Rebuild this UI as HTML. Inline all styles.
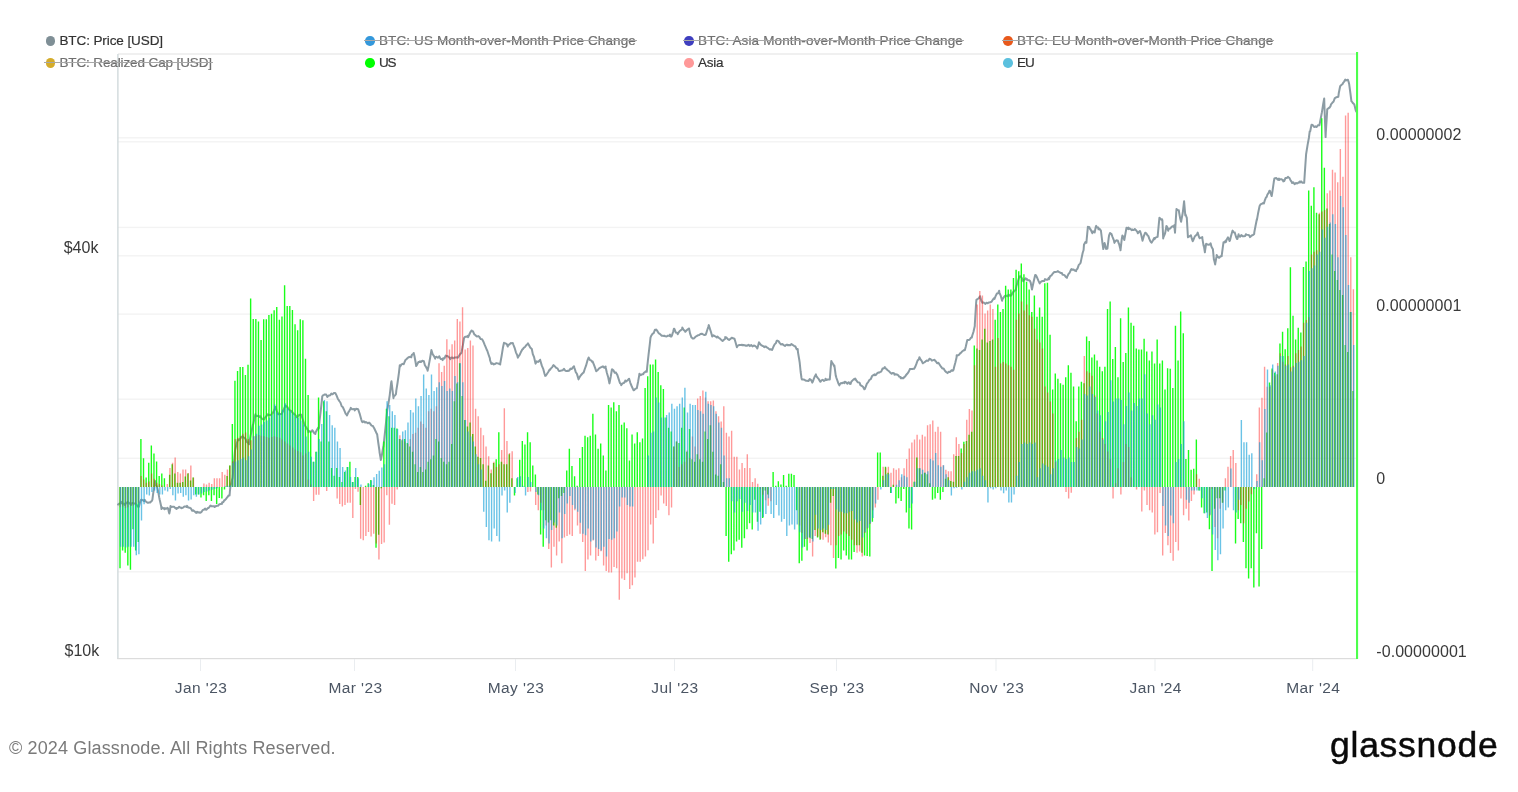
<!DOCTYPE html>
<html><head><meta charset="utf-8"><title>Glassnode chart</title>
<style>
html,body{margin:0;padding:0;background:#fff;}
body{width:1518px;height:792px;position:relative;overflow:hidden;font-family:"Liberation Sans",sans-serif;}
.lg{position:absolute;white-space:nowrap;font-size:13.5px;line-height:16px;color:#333;-webkit-text-stroke:0.2px currentColor;}
.lg .dot{position:absolute;left:-13.8px;top:3.2px;width:9.6px;height:9.6px;border-radius:50%;}
.lg.off{color:#707070;}
.lg.off .st{position:absolute;left:-15.2px;right:-1px;top:7.2px;height:1.3px;background:#a8a8a8;}
.ax{position:absolute;white-space:nowrap;font-size:16px;line-height:18px;color:#3a3a3a;}
.xl{position:absolute;white-space:nowrap;font-size:15.5px;line-height:18px;color:#4b5563;transform:translateX(-50%);letter-spacing:0.42px;}
.foot{position:absolute;left:9px;top:737px;font-size:18px;line-height:22px;color:#7a7a7a;white-space:nowrap;letter-spacing:0.14px;}
.logo{position:absolute;left:1330px;top:723.2px;font-size:35.5px;line-height:44px;color:#0a0a0a;white-space:nowrap;letter-spacing:0.75px;-webkit-text-stroke:0.5px #0a0a0a;}
</style></head><body>

<svg width="1518" height="792" viewBox="0 0 1518 792" style="position:absolute;left:0;top:0">
<rect x="118" y="53.3" width="1239" height="1.4" fill="#eaeaea"/>
<rect x="118" y="137.1" width="1239" height="1.4" fill="#f3f3f3"/>
<rect x="118" y="141.1" width="1239" height="1.4" fill="#f3f3f3"/>
<rect x="118" y="226.7" width="1239" height="1.4" fill="#f3f3f3"/>
<rect x="118" y="255.1" width="1239" height="1.4" fill="#f3f3f3"/>
<rect x="118" y="313.4" width="1239" height="1.4" fill="#f3f3f3"/>
<rect x="118" y="398.5" width="1239" height="1.4" fill="#f3f3f3"/>
<rect x="118" y="457.6" width="1239" height="1.4" fill="#f3f3f3"/>
<rect x="118" y="571.1" width="1239" height="1.4" fill="#f3f3f3"/>
<rect x="117.3" y="54" width="1.2" height="605" fill="#c9d3d6"/>
<rect x="117.3" y="658" width="1240" height="1.2" fill="#dcdcdc"/>
<rect x="200.0" y="659" width="1" height="12" fill="#eaedf0"/>
<rect x="354.0" y="659" width="1" height="12" fill="#eaedf0"/>
<rect x="515.0" y="659" width="1" height="12" fill="#eaedf0"/>
<rect x="674.0" y="659" width="1" height="12" fill="#eaedf0"/>
<rect x="836.0" y="659" width="1" height="12" fill="#eaedf0"/>
<rect x="995.5" y="659" width="1" height="12" fill="#eaedf0"/>
<rect x="1154.5" y="659" width="1" height="12" fill="#eaedf0"/>
<rect x="1312.2" y="659" width="1" height="12" fill="#eaedf0"/>
<path d="M118.1 504.6 L119.4 503.4 L120.7 503.4 L121.3 501.9 L122.0 503.2 L123.3 503.7 L124.6 503.8 L125.1 505.0 L125.9 503.2 L127.2 502.7 L127.4 501.9 L128.5 502.4 L129.8 503.6 L131.1 504.9 L131.2 503.5 L132.4 503.1 L133.7 503.2 L134.2 503.6 L135.0 503.6 L136.3 504.3 L137.6 506.5 L138.7 505.6 L138.9 506.7 L140.2 502.1 L141.0 499.7 L141.5 499.7 L142.8 500.1 L144.1 501.1 L144.8 499.8 L145.4 501.1 L146.7 502.2 L147.8 502.5 L148.0 502.9 L149.3 502.4 L150.1 502.6 L150.6 502.0 L151.9 500.8 L152.4 499.6 L153.2 493.3 L153.9 489.3 L154.5 485.0 L155.1 481.1 L155.8 484.2 L156.2 484.9 L157.1 486.9 L157.7 489.2 L158.4 492.9 L159.2 497.4 L159.7 499.8 L161.0 505.4 L161.5 509.0 L162.3 507.5 L163.6 508.4 L164.5 509.3 L164.9 508.1 L166.2 508.8 L167.5 507.9 L168.3 509.1 L168.8 511.7 L169.3 513.5 L170.1 509.7 L170.5 506.1 L171.4 506.9 L172.7 506.7 L173.6 506.7 L174.0 506.7 L175.3 508.1 L176.6 508.9 L176.6 508.0 L177.9 508.1 L179.2 506.7 L180.5 507.8 L181.2 507.6 L181.8 508.2 L183.1 507.6 L184.4 506.4 L185.7 506.4 L186.5 506.9 L187.0 505.9 L188.3 507.6 L189.6 507.8 L190.2 508.0 L190.9 508.4 L192.2 510.8 L193.3 510.3 L193.5 510.7 L194.8 511.5 L196.1 512.9 L197.1 511.7 L197.4 512.4 L198.7 512.3 L200.0 512.8 L200.8 512.5 L201.3 512.2 L202.6 510.2 L203.9 509.6 L205.2 508.6 L205.4 509.6 L206.5 509.7 L207.8 508.1 L208.4 508.1 L209.1 507.3 L210.4 505.6 L210.7 505.7 L211.7 506.3 L213.0 506.2 L214.3 506.2 L214.5 507.1 L215.6 506.3 L216.9 505.8 L218.2 505.7 L219.0 504.6 L219.5 504.2 L220.8 504.0 L222.1 503.8 L222.1 502.5 L223.4 502.0 L224.3 500.3 L224.7 500.2 L226.0 499.0 L227.3 497.2 L227.4 497.2 L228.6 495.4 L229.6 495.4 L229.9 491.3 L230.4 486.3 L231.2 483.3 L232.5 478.1 L232.6 478.1 L233.8 464.3 L235.1 449.9 L235.2 449.9 L236.4 444.7 L237.7 440.2 L237.7 439.5 L239.0 440.2 L240.3 438.7 L241.6 436.8 L242.7 436.2 L242.9 436.6 L244.2 437.9 L245.5 438.8 L246.5 441.2 L246.8 442.0 L248.1 442.8 L249.0 444.3 L249.4 441.6 L250.7 435.1 L252.0 429.1 L252.8 424.9 L253.3 424.0 L254.6 417.5 L255.4 414.3 L255.9 416.4 L257.2 416.0 L258.5 415.7 L259.8 417.0 L260.4 416.2 L261.1 417.6 L262.4 419.1 L263.7 419.5 L264.2 419.4 L265.0 417.6 L266.3 416.3 L267.6 414.4 L268.0 415.2 L268.9 414.7 L270.2 415.2 L271.5 414.3 L271.8 414.1 L272.8 413.0 L274.1 410.5 L275.4 407.4 L275.6 407.0 L276.7 410.5 L278.0 414.3 L278.1 413.4 L279.3 414.2 L280.6 414.1 L281.9 413.7 L281.9 413.5 L283.2 410.8 L284.5 407.5 L285.7 405.5 L285.8 406.2 L287.1 406.5 L288.4 408.8 L289.4 409.9 L289.7 410.2 L291.0 410.8 L292.3 412.2 L293.2 413.4 L293.6 413.6 L294.9 414.5 L296.2 416.2 L297.0 417.3 L297.5 416.9 L298.8 415.3 L300.1 414.8 L300.8 414.6 L301.4 414.8 L302.7 419.4 L304.0 423.4 L304.6 424.7 L305.3 426.0 L306.6 428.1 L307.9 430.1 L308.4 432.2 L309.2 431.1 L310.5 431.6 L311.8 431.5 L312.2 430.2 L313.1 431.2 L314.4 433.5 L315.3 434.0 L315.7 432.2 L317.0 429.8 L318.3 427.5 L318.5 428.7 L318.9 428.3 L319.6 420.5 L320.9 409.4 L322.2 397.2 L322.2 396.4 L323.5 394.9 L324.0 394.9 L324.8 394.4 L326.1 394.6 L327.4 396.9 L327.8 396.4 L328.7 395.5 L330.0 395.5 L331.3 393.6 L331.6 394.3 L332.6 394.2 L333.9 393.0 L335.2 393.1 L335.4 393.2 L336.5 395.4 L337.8 398.7 L339.1 400.6 L339.2 401.0 L340.4 402.5 L341.7 406.3 L343.0 407.2 L343.0 407.5 L344.3 410.4 L345.6 413.6 L346.7 414.9 L346.9 415.6 L348.2 412.6 L349.5 410.5 L350.5 408.8 L350.8 407.9 L352.1 409.2 L353.4 409.1 L354.3 409.0 L354.7 410.5 L356.0 408.8 L357.3 409.0 L358.1 409.2 L358.6 410.6 L359.9 414.4 L361.2 419.2 L361.9 421.5 L362.5 422.2 L363.8 421.2 L365.1 422.6 L365.7 422.1 L366.4 422.2 L367.7 423.2 L369.0 422.7 L369.5 422.8 L370.3 424.0 L371.6 425.6 L372.9 426.0 L373.3 426.7 L374.2 428.3 L375.5 431.0 L376.8 433.9 L377.1 433.9 L378.1 441.5 L379.4 450.5 L379.6 452.6 L380.7 458.9 L380.8 460.0 L382.0 454.3 L383.3 446.4 L383.4 446.8 L384.6 435.9 L385.9 423.6 L387.2 410.5 L387.2 410.2 L388.5 403.0 L389.7 395.3 L389.8 394.5 L391.1 383.0 L391.5 381.3 L392.4 389.3 L393.5 398.2 L393.7 396.3 L395.0 395.5 L396.0 393.9 L396.3 390.6 L397.6 382.5 L398.9 373.2 L399.8 365.2 L400.2 366.4 L401.5 364.4 L402.8 363.8 L403.6 364.2 L404.1 363.2 L405.4 360.1 L406.7 359.0 L407.4 358.2 L408.0 357.7 L409.3 357.0 L410.6 356.8 L411.2 357.4 L411.9 354.9 L413.2 354.0 L413.7 353.0 L414.5 356.3 L415.8 363.5 L416.2 366.0 L417.1 364.6 L418.4 362.0 L419.7 362.1 L420.0 361.3 L421.0 362.0 L422.3 360.7 L423.6 361.5 L423.8 361.1 L424.9 365.2 L426.2 367.2 L427.5 369.9 L427.6 370.7 L428.8 365.1 L430.1 358.0 L431.4 350.2 L431.4 350.0 L432.7 354.2 L434.0 356.1 L435.2 358.6 L435.3 357.3 L436.6 356.8 L437.9 357.7 L439.0 356.8 L439.2 356.3 L440.5 358.9 L441.8 359.1 L442.7 360.1 L443.1 358.3 L444.4 358.5 L445.7 355.6 L446.5 356.4 L447.0 355.9 L448.3 356.6 L449.6 357.9 L450.3 359.1 L450.9 357.8 L452.2 357.5 L453.5 358.3 L454.1 357.7 L454.8 357.4 L456.1 357.5 L457.4 357.3 L457.9 357.6 L458.7 356.5 L460.0 354.3 L461.3 353.0 L461.7 351.5 L462.6 346.8 L463.9 339.0 L464.2 337.7 L465.2 336.7 L466.5 336.7 L467.8 335.8 L468.0 337.2 L469.1 335.0 L470.4 332.1 L471.7 330.5 L471.8 331.3 L473.0 331.3 L474.3 334.4 L475.6 335.3 L475.6 335.5 L476.9 336.6 L478.2 336.1 L479.4 336.8 L479.5 337.3 L480.8 339.1 L482.1 339.2 L483.2 341.2 L483.4 341.6 L484.7 344.9 L486.0 347.9 L487.0 350.3 L487.3 350.8 L488.6 354.7 L489.9 358.4 L490.0 360.0 L491.2 363.5 L491.4 363.9 L492.5 363.3 L493.8 364.4 L495.1 364.0 L495.2 363.6 L496.4 363.1 L497.7 363.4 L499.0 363.8 L500.2 364.5 L500.3 363.2 L501.6 356.0 L502.9 347.8 L504.0 342.7 L504.2 343.0 L505.5 343.4 L506.8 344.1 L507.8 346.5 L508.1 345.0 L509.4 344.5 L510.7 343.1 L512.0 343.2 L512.8 343.0 L513.3 344.5 L514.6 347.8 L515.9 352.3 L517.2 355.2 L517.9 357.7 L518.5 356.3 L519.8 354.6 L521.1 351.7 L522.4 349.3 L523.0 349.0 L523.7 347.9 L525.0 347.0 L526.3 345.2 L527.6 344.0 L528.0 343.4 L528.9 345.0 L530.2 347.5 L531.5 348.7 L531.8 349.0 L532.8 354.1 L534.1 357.2 L535.4 363.1 L535.6 363.6 L536.7 361.4 L538.0 361.9 L539.3 360.9 L540.1 359.7 L540.6 361.5 L541.9 365.9 L543.2 368.8 L544.5 373.8 L545.2 375.9 L545.8 375.6 L547.1 373.7 L548.4 371.8 L549.5 369.8 L549.7 370.1 L551.0 368.4 L552.3 367.1 L553.3 365.3 L553.6 365.1 L554.9 366.4 L556.2 367.9 L557.5 368.4 L558.8 370.9 L559.6 371.0 L560.1 370.9 L561.4 370.5 L562.7 370.2 L563.4 369.6 L564.0 368.8 L565.3 370.7 L566.6 370.9 L567.9 370.7 L568.4 370.9 L569.2 370.6 L570.5 368.6 L571.8 369.0 L573.1 367.2 L574.0 366.2 L574.4 367.7 L575.7 371.9 L577.0 374.1 L578.3 378.4 L578.5 379.4 L579.6 377.1 L580.9 375.2 L582.2 373.8 L583.5 372.6 L583.6 372.6 L584.8 369.0 L586.1 365.4 L587.4 360.7 L588.6 357.5 L588.7 357.8 L590.0 360.1 L591.3 360.5 L592.4 362.1 L592.6 361.5 L593.9 364.6 L595.2 368.1 L596.2 371.2 L596.5 371.0 L597.8 370.0 L599.1 368.3 L600.4 367.7 L601.3 367.0 L601.7 367.0 L603.0 366.3 L604.3 367.8 L605.6 366.5 L605.8 368.0 L606.9 373.0 L608.2 377.2 L609.4 383.4 L609.5 383.2 L610.8 376.4 L611.9 369.5 L612.1 369.3 L613.4 370.3 L614.7 372.8 L616.0 372.5 L616.4 373.5 L617.3 374.9 L618.6 378.9 L619.9 383.0 L621.0 384.0 L621.2 385.2 L622.5 383.4 L623.8 383.0 L625.1 381.5 L625.3 380.4 L626.4 381.4 L627.7 380.1 L629.0 378.8 L629.1 378.7 L630.3 382.8 L631.6 386.0 L632.9 388.9 L633.6 390.3 L634.2 390.1 L635.5 388.6 L636.8 388.3 L637.2 386.3 L638.1 381.7 L639.2 375.3 L639.4 373.8 L640.7 375.1 L642.0 374.3 L643.3 374.3 L643.7 373.0 L644.6 372.4 L645.9 371.3 L646.8 371.8 L647.2 367.0 L648.5 355.2 L649.8 344.1 L650.5 337.6 L651.1 336.1 L652.4 333.9 L653.7 333.1 L655.0 329.7 L655.6 330.0 L656.3 329.6 L657.6 331.4 L658.9 333.6 L659.4 333.6 L660.2 334.2 L661.5 335.7 L662.8 335.8 L664.1 336.0 L664.4 335.7 L665.4 336.3 L666.7 336.4 L668.0 335.6 L669.3 335.9 L670.0 334.6 L670.6 336.5 L671.4 336.6 L671.9 335.6 L673.2 331.5 L673.9 328.7 L674.5 329.1 L675.8 332.6 L677.1 332.7 L677.7 334.2 L678.4 332.9 L679.7 331.0 L681.0 330.1 L682.2 328.9 L682.3 327.5 L683.6 329.9 L684.9 330.9 L685.3 331.8 L686.2 330.8 L687.5 329.5 L688.8 328.6 L689.1 328.6 L690.1 333.7 L691.4 337.4 L691.6 337.4 L692.7 338.5 L694.0 338.4 L695.3 337.0 L696.6 336.0 L696.6 336.1 L697.9 335.3 L699.2 335.1 L700.5 334.0 L701.7 333.7 L701.8 333.7 L703.1 334.4 L704.4 335.0 L705.7 334.7 L706.0 334.0 L707.0 330.7 L708.3 326.8 L708.8 325.1 L709.6 327.9 L710.9 331.7 L711.8 335.0 L712.2 336.5 L713.5 335.2 L714.8 336.2 L716.1 336.8 L716.8 337.5 L717.4 336.6 L718.7 337.7 L720.0 338.6 L721.3 339.9 L721.9 340.4 L722.6 340.9 L723.9 339.7 L725.2 338.7 L725.2 337.1 L726.5 337.5 L727.8 339.2 L729.1 340.0 L729.5 339.2 L730.4 339.2 L731.7 337.7 L733.0 338.2 L734.3 338.9 L734.5 338.7 L735.6 342.5 L736.9 347.3 L737.1 346.3 L738.2 345.5 L739.5 344.9 L740.8 345.0 L742.1 344.7 L742.1 345.2 L743.4 345.1 L744.7 345.3 L746.0 345.8 L747.2 345.5 L747.3 345.7 L748.6 344.7 L749.9 346.1 L751.2 345.0 L752.5 346.4 L753.5 345.9 L753.8 345.4 L755.1 345.9 L756.4 347.0 L757.3 348.4 L757.7 347.2 L759.0 342.3 L759.0 342.2 L760.3 344.2 L761.6 345.4 L762.9 346.1 L763.6 346.3 L764.2 347.2 L765.5 346.4 L766.8 347.4 L768.1 348.1 L769.4 349.4 L770.7 349.2 L772.0 350.0 L772.4 349.3 L773.3 347.0 L774.6 344.4 L775.9 343.1 L776.7 340.9 L777.2 340.6 L778.5 341.1 L779.8 343.1 L781.1 344.5 L781.3 344.2 L782.4 344.1 L783.7 345.1 L785.0 345.9 L786.3 344.8 L787.6 344.7 L787.6 345.3 L788.9 345.1 L790.2 345.3 L791.5 344.0 L792.6 344.9 L792.8 345.0 L794.1 345.8 L795.4 346.5 L796.7 349.3 L797.7 349.0 L798.0 352.3 L799.3 360.0 L799.7 362.7 L800.6 371.5 L801.5 378.0 L801.9 379.6 L803.2 379.6 L804.5 379.8 L805.3 380.4 L805.8 380.7 L807.1 380.8 L808.4 381.1 L809.7 379.1 L810.3 379.5 L811.0 379.8 L812.3 382.6 L812.9 381.5 L813.6 379.4 L814.9 376.2 L815.9 374.4 L816.2 375.9 L817.5 377.7 L818.8 379.2 L820.1 381.5 L820.4 381.8 L821.4 380.4 L822.7 379.8 L824.0 380.9 L825.3 380.2 L825.5 378.8 L826.6 380.0 L827.9 379.4 L829.2 379.4 L829.8 379.4 L830.5 370.4 L831.3 361.0 L831.8 362.2 L833.1 364.0 L834.3 366.7 L834.4 365.6 L835.7 375.4 L836.4 377.8 L837.0 379.5 L838.3 383.2 L839.4 385.4 L839.6 384.5 L840.9 383.1 L842.2 383.3 L843.5 382.4 L844.4 383.1 L844.8 381.7 L846.1 382.3 L847.4 383.7 L848.7 382.3 L850.0 383.3 L850.0 384.1 L850.6 383.9 L851.3 381.7 L852.6 380.4 L853.9 379.1 L855.2 379.6 L855.2 378.4 L856.5 380.7 L857.8 382.3 L859.1 382.4 L859.7 382.9 L860.4 385.1 L861.7 385.9 L863.0 386.8 L864.3 389.2 L864.8 389.0 L865.6 387.2 L866.9 383.6 L868.2 382.1 L868.8 381.1 L869.5 379.8 L870.8 379.2 L872.1 376.0 L873.4 375.1 L874.7 374.3 L874.8 375.2 L876.0 374.8 L877.3 373.2 L878.6 372.5 L879.4 372.6 L879.9 372.1 L881.2 371.6 L882.5 368.6 L883.8 368.4 L884.8 367.1 L885.1 367.6 L886.4 369.1 L887.7 370.3 L889.0 371.2 L890.0 372.4 L890.3 372.6 L891.6 373.8 L892.9 372.9 L894.2 373.5 L894.5 374.7 L895.5 374.2 L896.8 374.5 L898.1 375.1 L899.4 376.8 L900.6 376.9 L900.7 378.2 L902.0 378.0 L903.3 378.2 L904.6 376.8 L905.2 376.4 L905.9 375.2 L907.2 373.8 L908.5 372.1 L909.7 369.6 L909.8 369.1 L911.1 369.1 L912.4 369.0 L913.7 368.7 L914.2 368.7 L915.0 367.3 L916.3 364.2 L917.6 360.5 L918.9 359.2 L919.4 357.2 L920.2 359.0 L921.5 360.6 L922.8 363.3 L923.3 363.0 L924.1 362.5 L925.4 361.6 L926.7 360.4 L928.0 360.9 L929.3 359.3 L929.4 358.7 L930.6 359.2 L931.9 360.7 L933.2 360.1 L934.5 359.8 L935.5 361.2 L935.8 361.3 L937.1 363.3 L938.4 362.8 L939.7 364.8 L941.0 366.8 L941.5 367.3 L942.3 368.6 L943.6 368.6 L944.9 370.8 L946.1 372.0 L946.2 372.0 L947.5 373.1 L948.8 371.8 L950.1 372.0 L951.4 370.3 L952.7 370.8 L953.6 369.6 L954.0 367.5 L955.3 362.7 L956.6 357.2 L956.7 355.3 L957.9 355.4 L959.2 354.6 L960.5 352.9 L961.2 352.8 L961.8 351.8 L963.1 350.8 L964.4 349.9 L964.8 350.2 L965.7 347.0 L967.0 341.3 L967.3 339.9 L968.3 339.9 L969.6 339.7 L970.9 337.8 L971.8 337.5 L972.2 335.7 L973.5 331.7 L974.8 326.0 L974.8 324.9 L976.1 303.3 L976.4 299.8 L977.4 299.2 L978.7 298.3 L980.0 296.2 L980.0 296.4 L981.3 300.7 L982.4 302.8 L982.6 302.6 L983.9 302.6 L985.2 303.9 L986.5 302.7 L987.8 303.2 L988.5 302.7 L989.1 302.4 L990.4 302.3 L991.7 301.6 L993.0 299.4 L994.3 298.0 L994.5 298.9 L995.6 296.1 L996.9 293.5 L998.2 293.2 L999.1 290.8 L999.5 292.8 L1000.8 295.9 L1002.1 300.8 L1002.1 299.9 L1003.4 297.8 L1004.7 296.0 L1006.0 295.6 L1006.1 295.7 L1007.3 296.3 L1008.6 294.6 L1009.9 295.7 L1011.2 295.2 L1011.2 295.5 L1012.5 293.0 L1013.8 291.5 L1015.1 290.3 L1015.8 290.2 L1016.4 286.1 L1017.7 282.0 L1019.0 277.8 L1019.4 276.7 L1020.3 276.2 L1021.6 277.6 L1022.9 280.7 L1023.3 281.3 L1024.2 279.8 L1025.5 278.3 L1026.4 279.6 L1026.8 278.8 L1028.1 280.3 L1029.4 280.3 L1030.0 281.0 L1030.7 282.7 L1032.0 289.5 L1032.1 288.8 L1033.3 283.2 L1034.6 277.6 L1035.2 274.9 L1035.9 275.1 L1037.2 277.8 L1038.5 280.8 L1039.7 283.4 L1039.8 283.0 L1041.1 281.6 L1042.4 281.0 L1043.7 281.1 L1044.2 281.1 L1045.0 279.1 L1046.3 279.7 L1047.6 279.7 L1048.8 277.9 L1048.9 279.3 L1050.2 276.1 L1051.5 275.3 L1052.8 273.5 L1053.3 273.0 L1054.1 272.1 L1055.4 271.9 L1056.7 271.8 L1057.9 271.1 L1058.0 271.6 L1059.3 272.1 L1060.6 272.9 L1061.9 273.0 L1062.4 274.5 L1063.2 274.8 L1064.5 275.1 L1065.8 277.0 L1067.0 277.8 L1067.1 276.9 L1068.4 274.2 L1069.7 272.6 L1071.0 269.7 L1071.5 269.0 L1072.3 269.8 L1073.6 269.6 L1074.9 270.7 L1076.1 271.2 L1076.2 270.0 L1077.5 268.6 L1078.8 264.9 L1080.1 263.6 L1080.6 262.7 L1081.4 258.9 L1082.7 252.8 L1083.6 250.0 L1084.0 244.4 L1084.1 244.5 L1085.3 242.1 L1086.4 242.8 L1086.6 240.4 L1087.9 226.7 L1087.9 226.9 L1089.2 226.9 L1090.2 229.4 L1090.5 229.1 L1091.8 232.2 L1092.4 233.1 L1093.1 231.4 L1094.4 232.2 L1094.7 232.4 L1095.7 227.1 L1096.2 225.9 L1097.0 227.5 L1098.3 227.6 L1098.5 229.3 L1099.6 228.8 L1100.8 230.6 L1100.9 230.5 L1102.2 241.0 L1102.3 242.2 L1103.3 249.1 L1103.5 248.2 L1104.5 242.9 L1104.8 243.8 L1106.1 248.8 L1106.1 249.0 L1107.3 248.3 L1107.4 248.6 L1108.7 237.8 L1109.1 235.3 L1110.0 233.0 L1110.6 233.6 L1111.3 233.7 L1112.6 237.1 L1112.9 237.8 L1113.9 240.4 L1114.4 242.9 L1115.2 241.4 L1116.5 240.2 L1116.7 240.6 L1117.8 240.6 L1118.9 243.9 L1119.1 244.0 L1120.4 249.3 L1120.5 250.3 L1121.7 239.5 L1122.4 235.5 L1123.0 236.4 L1124.2 239.6 L1124.3 240.0 L1125.6 232.8 L1126.5 227.8 L1126.9 229.0 L1128.2 227.6 L1128.8 229.1 L1129.5 228.2 L1130.8 229.3 L1131.8 230.2 L1132.1 229.5 L1133.4 230.0 L1134.7 229.6 L1134.8 229.0 L1136.0 230.2 L1137.3 231.8 L1137.9 233.3 L1138.6 232.2 L1139.9 231.0 L1140.2 231.5 L1141.2 234.7 L1142.4 240.1 L1142.5 240.7 L1143.8 236.2 L1145.1 232.9 L1145.5 232.7 L1146.4 233.5 L1147.7 235.6 L1148.5 236.3 L1149.0 238.2 L1150.3 241.1 L1151.2 242.3 L1151.6 242.6 L1152.9 240.5 L1154.2 238.0 L1154.5 239.2 L1155.5 237.6 L1156.8 237.1 L1157.6 236.8 L1158.1 231.7 L1159.4 217.9 L1159.4 217.7 L1160.7 219.0 L1161.4 219.7 L1162.0 219.2 L1162.4 220.4 L1163.2 238.5 L1163.3 237.7 L1164.6 234.7 L1165.2 232.9 L1165.9 229.1 L1166.4 225.9 L1167.2 227.1 L1168.2 230.8 L1168.5 228.8 L1169.8 228.8 L1171.1 227.6 L1171.2 227.2 L1172.4 226.2 L1173.7 227.0 L1174.2 225.2 L1175.0 232.4 L1175.0 232.8 L1176.3 211.7 L1176.5 208.9 L1177.6 210.1 L1178.8 210.3 L1178.9 211.3 L1180.2 218.6 L1181.1 221.8 L1181.5 219.6 L1182.8 212.5 L1183.0 210.9 L1184.1 201.2 L1184.1 201.4 L1185.3 215.3 L1185.4 214.0 L1186.7 217.7 L1186.8 217.6 L1187.9 236.7 L1188.0 237.3 L1189.3 236.4 L1190.6 235.6 L1190.9 235.3 L1191.9 238.9 L1192.7 241.2 L1193.2 240.3 L1194.5 237.1 L1194.7 236.5 L1195.8 235.6 L1197.1 234.1 L1197.7 232.6 L1198.4 235.2 L1199.2 237.4 L1199.7 238.2 L1201.0 237.6 L1202.3 237.1 L1202.3 238.1 L1203.6 245.9 L1203.8 245.3 L1204.9 252.3 L1205.0 251.0 L1206.1 243.9 L1206.2 243.8 L1207.5 244.6 L1208.8 244.8 L1210.1 244.2 L1210.6 243.3 L1211.4 246.6 L1212.7 248.9 L1212.9 249.2 L1213.9 259.6 L1214.0 259.4 L1215.2 264.5 L1215.3 263.4 L1216.6 256.2 L1216.7 254.9 L1217.9 256.9 L1218.9 257.7 L1219.2 257.8 L1220.5 256.3 L1221.7 256.2 L1221.8 254.8 L1223.1 245.1 L1223.5 242.3 L1224.4 242.5 L1225.7 240.5 L1225.8 242.2 L1227.0 239.0 L1228.0 237.4 L1228.3 237.9 L1229.6 241.0 L1230.0 240.3 L1230.9 236.6 L1232.2 231.8 L1232.6 230.6 L1233.5 232.2 L1234.8 232.5 L1234.8 232.7 L1236.1 237.0 L1237.1 239.0 L1237.4 239.0 L1238.6 234.3 L1238.7 235.3 L1240.0 236.7 L1240.0 236.8 L1241.3 235.0 L1242.6 236.3 L1243.9 236.2 L1245.2 236.0 L1245.8 234.2 L1246.5 234.6 L1247.8 234.9 L1249.1 235.2 L1250.0 237.1 L1250.4 236.7 L1251.7 235.5 L1253.0 235.0 L1254.2 233.9 L1254.3 232.4 L1255.6 225.5 L1256.9 219.0 L1256.9 220.2 L1258.2 212.7 L1259.5 206.5 L1259.7 205.7 L1260.8 204.1 L1262.1 203.7 L1263.4 202.9 L1263.9 203.5 L1264.7 200.7 L1266.0 197.4 L1266.7 197.0 L1267.3 194.8 L1268.6 192.9 L1269.4 190.8 L1269.9 190.8 L1271.2 194.8 L1271.7 196.0 L1272.5 191.1 L1273.8 181.8 L1274.4 178.5 L1275.1 178.3 L1276.4 178.1 L1277.7 179.7 L1279.0 178.6 L1279.2 180.1 L1280.3 179.2 L1281.6 179.3 L1282.9 180.1 L1283.3 181.4 L1284.2 181.0 L1285.5 178.0 L1286.8 177.9 L1288.1 176.8 L1288.3 177.3 L1289.4 177.8 L1290.7 180.6 L1291.7 181.9 L1292.0 183.0 L1293.3 182.3 L1294.6 184.1 L1295.8 183.2 L1295.9 183.0 L1297.2 183.5 L1298.5 182.7 L1299.8 181.5 L1300.0 182.5 L1301.1 181.4 L1302.4 182.8 L1303.7 182.6 L1304.2 182.8 L1305.0 170.3 L1306.1 154.2 L1306.3 153.0 L1307.6 144.9 L1308.9 137.9 L1309.7 131.4 L1310.2 131.2 L1311.5 124.8 L1311.7 124.7 L1312.8 125.2 L1314.1 127.0 L1315.3 126.7 L1315.4 126.4 L1316.7 127.0 L1318.0 125.2 L1319.3 125.2 L1319.4 125.3 L1320.6 119.3 L1321.9 112.2 L1322.2 110.3 L1323.2 104.0 L1324.2 98.5 L1324.5 107.8 L1325.6 137.1 L1325.8 132.5 L1327.1 112.1 L1327.2 109.3 L1328.4 108.4 L1329.7 107.4 L1330.6 106.0 L1331.0 104.3 L1332.3 102.8 L1333.6 101.5 L1334.7 98.4 L1334.9 98.1 L1336.2 97.3 L1337.5 97.1 L1338.3 96.8 L1338.8 93.0 L1340.1 86.5 L1340.3 85.9 L1341.4 84.9 L1342.7 84.0 L1343.1 82.9 L1344.0 81.8 L1345.3 79.6 L1345.8 80.4 L1346.6 80.3 L1347.9 79.7 L1348.6 81.8 L1349.2 84.3 L1350.5 94.0 L1351.4 101.2 L1351.8 101.5 L1353.1 103.3 L1354.2 104.3 L1354.4 104.7 L1355.7 110.3 L1356.1 110.6 L1356.1 111.4" fill="none" stroke="#80919a" stroke-width="2" stroke-linejoin="round" stroke-linecap="round" stroke-opacity="0.9"/>
<path d="M119.30 487.1h1.4v81.2h-1.4zM121.91 487.1h1.4v63.4h-1.4zM124.52 487.1h1.4v65.6h-1.4zM127.14 487.1h1.4v78.5h-1.4zM129.75 487.1h1.4v82.6h-1.4zM132.36 487.1h1.4v42.1h-1.4zM134.97 487.1h1.4v63.4h-1.4zM137.59 487.1h1.4v55.0h-1.4zM140.20 439.0h1.4v48.1h-1.4zM142.81 458.2h1.4v28.9h-1.4zM145.43 477.4h1.4v9.7h-1.4zM148.04 462.8h1.4v24.3h-1.4zM150.65 445.6h1.4v41.5h-1.4zM153.26 453.6h1.4v33.5h-1.4zM155.88 461.5h1.4v25.6h-1.4zM158.49 476.1h1.4v11.0h-1.4zM161.10 473.4h1.4v13.7h-1.4zM163.71 478.2h1.4v8.9h-1.4zM168.94 474.8h1.4v12.3h-1.4zM171.55 464.2h1.4v22.9h-1.4zM174.16 473.4h1.4v13.7h-1.4zM176.77 482.7h1.4v4.4h-1.4zM179.39 482.7h1.4v4.4h-1.4zM182.00 481.9h1.4v5.2h-1.4zM184.61 476.6h1.4v10.5h-1.4zM187.22 473.4h1.4v13.7h-1.4zM189.84 480.6h1.4v6.5h-1.4zM192.45 477.4h1.4v9.7h-1.4zM195.06 487.1h1.4v7.3h-1.4zM197.68 487.1h1.4v7.3h-1.4zM200.29 487.1h1.4v10.3h-1.4zM202.90 487.1h1.4v8.1h-1.4zM205.51 487.1h1.4v13.8h-1.4zM208.12 487.1h1.4v8.1h-1.4zM210.74 487.1h1.4v13.8h-1.4zM213.35 487.1h1.4v8.1h-1.4zM215.96 487.1h1.4v16.8h-1.4zM218.57 487.1h1.4v10.8h-1.4zM221.19 487.1h1.4v11.4h-1.4zM223.80 487.1h1.4v2.3h-1.4zM226.41 476.1h1.4v11.0h-1.4zM229.02 465.5h1.4v21.6h-1.4zM231.64 423.9h1.4v63.2h-1.4zM234.25 380.7h1.4v106.4h-1.4zM236.86 370.9h1.4v116.2h-1.4zM239.47 366.9h1.4v120.2h-1.4zM242.09 366.9h1.4v120.2h-1.4zM244.70 374.9h1.4v112.2h-1.4zM247.31 364.8h1.4v122.3h-1.4zM249.93 298.5h1.4v188.6h-1.4zM252.54 319.0h1.4v168.1h-1.4zM255.15 319.0h1.4v168.1h-1.4zM257.76 321.6h1.4v165.5h-1.4zM260.38 340.1h1.4v147.0h-1.4zM262.99 319.2h1.4v167.9h-1.4zM265.60 319.2h1.4v167.9h-1.4zM268.21 315.0h1.4v172.1h-1.4zM270.82 313.7h1.4v173.4h-1.4zM273.44 310.3h1.4v176.8h-1.4zM276.05 307.0h1.4v180.1h-1.4zM278.66 319.7h1.4v167.4h-1.4zM281.27 316.6h1.4v170.5h-1.4zM283.89 285.3h1.4v201.8h-1.4zM286.50 306.0h1.4v181.1h-1.4zM289.11 306.0h1.4v181.1h-1.4zM291.72 309.9h1.4v177.2h-1.4zM294.34 324.3h1.4v162.8h-1.4zM296.95 330.3h1.4v156.8h-1.4zM299.56 319.2h1.4v167.9h-1.4zM302.18 320.3h1.4v166.8h-1.4zM304.79 358.7h1.4v128.4h-1.4zM307.40 394.9h1.4v92.2h-1.4zM310.01 431.5h1.4v55.6h-1.4zM312.62 461.8h1.4v25.3h-1.4zM315.24 451.7h1.4v35.4h-1.4zM317.85 397.4h1.4v89.7h-1.4zM320.46 441.6h1.4v45.5h-1.4zM323.07 401.2h1.4v85.9h-1.4zM325.69 411.3h1.4v75.8h-1.4zM328.30 441.6h1.4v45.5h-1.4zM330.91 468.1h1.4v19.0h-1.4zM333.52 475.7h1.4v11.4h-1.4zM336.14 468.1h1.4v19.0h-1.4zM338.75 477.0h1.4v10.1h-1.4zM341.36 482.0h1.4v5.1h-1.4zM343.97 471.9h1.4v15.2h-1.4zM346.59 466.9h1.4v20.2h-1.4zM349.20 461.8h1.4v25.3h-1.4zM351.81 482.0h1.4v5.1h-1.4zM354.42 477.0h1.4v10.1h-1.4zM357.04 477.0h1.4v10.1h-1.4zM359.65 487.1h1.4v17.9h-1.4zM364.88 485.8h1.4v1.3h-1.4zM367.49 483.3h1.4v3.8h-1.4zM370.10 480.0h1.4v7.1h-1.4zM372.71 485.0h1.4v2.1h-1.4zM375.32 487.1h1.4v60.6h-1.4zM377.94 487.1h1.4v47.7h-1.4zM380.55 487.1h1.4v1.2h-1.4zM383.16 441.6h1.4v45.5h-1.4zM385.77 408.7h1.4v78.4h-1.4zM388.39 416.3h1.4v70.8h-1.4zM391.00 427.7h1.4v59.4h-1.4zM393.61 427.7h1.4v59.4h-1.4zM396.22 428.5h1.4v58.6h-1.4zM398.84 439.1h1.4v48.0h-1.4zM401.45 440.3h1.4v46.8h-1.4zM404.06 439.1h1.4v48.0h-1.4zM406.68 442.9h1.4v44.2h-1.4zM409.29 446.6h1.4v40.5h-1.4zM411.90 451.7h1.4v35.4h-1.4zM414.51 464.3h1.4v22.8h-1.4zM417.12 471.9h1.4v15.2h-1.4zM419.74 466.9h1.4v20.2h-1.4zM422.35 471.9h1.4v15.2h-1.4zM424.96 469.4h1.4v17.7h-1.4zM427.57 461.8h1.4v25.3h-1.4zM430.19 459.3h1.4v27.8h-1.4zM432.80 455.5h1.4v31.6h-1.4zM435.41 439.1h1.4v48.0h-1.4zM438.02 441.6h1.4v45.5h-1.4zM440.64 458.0h1.4v29.1h-1.4zM443.25 461.8h1.4v25.3h-1.4zM445.86 464.3h1.4v22.8h-1.4zM448.47 461.8h1.4v25.3h-1.4zM451.09 444.1h1.4v43.0h-1.4zM453.70 401.2h1.4v85.9h-1.4zM456.31 383.5h1.4v103.6h-1.4zM458.93 363.3h1.4v123.8h-1.4zM461.54 396.1h1.4v91.0h-1.4zM464.15 420.1h1.4v67.0h-1.4zM466.76 426.4h1.4v60.7h-1.4zM469.38 422.6h1.4v64.5h-1.4zM471.99 434.0h1.4v53.1h-1.4zM474.60 446.6h1.4v40.5h-1.4zM477.21 456.8h1.4v30.3h-1.4zM479.82 458.0h1.4v29.1h-1.4zM482.44 464.3h1.4v22.8h-1.4zM485.05 480.8h1.4v6.3h-1.4zM487.66 465.6h1.4v21.5h-1.4zM490.27 473.2h1.4v13.9h-1.4zM492.89 463.1h1.4v24.0h-1.4zM495.50 459.3h1.4v27.8h-1.4zM498.11 432.2h1.4v54.9h-1.4zM500.72 461.8h1.4v25.3h-1.4zM503.34 464.3h1.4v22.8h-1.4zM505.95 464.3h1.4v22.8h-1.4zM508.56 454.2h1.4v32.9h-1.4zM511.17 478.2h1.4v8.9h-1.4zM513.79 487.1h1.4v8.5h-1.4zM516.40 478.2h1.4v8.9h-1.4zM519.01 459.7h1.4v27.4h-1.4zM521.62 441.1h1.4v46.0h-1.4zM524.24 444.6h1.4v42.5h-1.4zM526.85 432.2h1.4v54.9h-1.4zM529.46 442.3h1.4v44.8h-1.4zM532.07 465.6h1.4v21.5h-1.4zM534.69 474.4h1.4v12.7h-1.4zM537.30 487.1h1.4v7.3h-1.4zM539.91 487.1h1.4v47.4h-1.4zM542.52 487.1h1.4v59.6h-1.4zM545.14 487.1h1.4v33.1h-1.4zM547.75 487.1h1.4v35.3h-1.4zM550.36 487.1h1.4v33.1h-1.4zM552.97 487.1h1.4v38.4h-1.4zM555.59 487.1h1.4v40.6h-1.4zM558.20 487.1h1.4v11.1h-1.4zM560.81 487.1h1.4v8.8h-1.4zM563.42 487.1h1.4v5.8h-1.4zM566.04 470.6h1.4v16.5h-1.4zM568.65 448.7h1.4v38.4h-1.4zM571.26 466.1h1.4v21.0h-1.4zM573.88 476.2h1.4v10.9h-1.4zM576.49 485.8h1.4v1.3h-1.4zM579.10 458.0h1.4v29.1h-1.4zM581.71 446.9h1.4v40.2h-1.4zM584.32 435.8h1.4v51.3h-1.4zM586.94 437.3h1.4v49.8h-1.4zM589.55 435.8h1.4v51.3h-1.4zM592.16 413.8h1.4v73.3h-1.4zM594.77 434.5h1.4v52.6h-1.4zM597.39 448.7h1.4v38.4h-1.4zM600.00 443.4h1.4v43.7h-1.4zM602.61 455.5h1.4v31.6h-1.4zM605.22 470.6h1.4v16.5h-1.4zM607.84 405.0h1.4v82.1h-1.4zM610.45 407.5h1.4v79.6h-1.4zM613.06 402.2h1.4v84.9h-1.4zM615.67 411.3h1.4v75.8h-1.4zM618.29 405.0h1.4v82.1h-1.4zM620.90 424.7h1.4v62.4h-1.4zM623.51 422.6h1.4v64.5h-1.4zM626.12 428.2h1.4v58.9h-1.4zM628.74 460.5h1.4v26.6h-1.4zM631.35 434.5h1.4v52.6h-1.4zM633.96 443.4h1.4v43.7h-1.4zM636.57 432.2h1.4v54.9h-1.4zM639.19 442.3h1.4v44.8h-1.4zM641.80 438.6h1.4v48.5h-1.4zM644.41 388.0h1.4v99.1h-1.4zM647.02 376.3h1.4v110.8h-1.4zM649.64 364.5h1.4v122.6h-1.4zM652.25 364.5h1.4v122.6h-1.4zM654.86 359.5h1.4v127.6h-1.4zM657.47 372.1h1.4v115.0h-1.4zM660.09 385.3h1.4v101.8h-1.4zM662.70 389.0h1.4v98.1h-1.4zM665.31 417.6h1.4v69.5h-1.4zM667.92 427.7h1.4v59.4h-1.4zM670.54 431.5h1.4v55.6h-1.4zM673.15 446.6h1.4v40.5h-1.4zM675.76 441.6h1.4v45.5h-1.4zM678.37 442.9h1.4v44.2h-1.4zM680.99 427.7h1.4v59.4h-1.4zM683.60 407.5h1.4v79.6h-1.4zM686.21 451.7h1.4v35.4h-1.4zM688.82 429.0h1.4v58.1h-1.4zM691.44 459.3h1.4v27.8h-1.4zM694.05 461.8h1.4v25.3h-1.4zM696.66 454.2h1.4v32.9h-1.4zM699.27 459.3h1.4v27.8h-1.4zM701.89 461.8h1.4v25.3h-1.4zM704.50 431.5h1.4v55.6h-1.4zM707.11 439.1h1.4v48.0h-1.4zM709.72 425.2h1.4v61.9h-1.4zM712.34 451.7h1.4v35.4h-1.4zM714.95 474.4h1.4v12.7h-1.4zM717.56 475.7h1.4v11.4h-1.4zM720.17 464.3h1.4v22.8h-1.4zM722.79 482.0h1.4v5.1h-1.4zM725.40 487.1h1.4v49.0h-1.4zM728.01 487.1h1.4v74.7h-1.4zM730.62 487.1h1.4v67.1h-1.4zM733.24 487.1h1.4v63.4h-1.4zM735.85 487.1h1.4v54.3h-1.4zM738.46 487.1h1.4v52.7h-1.4zM741.07 487.1h1.4v60.6h-1.4zM743.69 487.1h1.4v51.2h-1.4zM746.30 487.1h1.4v42.1h-1.4zM748.91 487.1h1.4v36.1h-1.4zM751.52 487.1h1.4v42.4h-1.4zM754.14 487.1h1.4v12.6h-1.4zM756.75 487.1h1.4v34.6h-1.4zM759.36 487.1h1.4v24.7h-1.4zM761.97 487.1h1.4v30.8h-1.4zM764.59 487.1h1.4v3.5h-1.4zM767.20 487.1h1.4v7.3h-1.4zM772.42 471.9h1.4v15.2h-1.4zM775.04 485.8h1.4v1.3h-1.4zM777.65 481.3h1.4v5.8h-1.4zM780.26 484.5h1.4v2.6h-1.4zM782.87 474.9h1.4v12.2h-1.4zM785.49 485.8h1.4v1.3h-1.4zM788.10 473.7h1.4v13.4h-1.4zM790.71 473.7h1.4v13.4h-1.4zM793.32 474.9h1.4v12.2h-1.4zM795.94 487.1h1.4v23.2h-1.4zM798.55 487.1h1.4v76.2h-1.4zM801.16 487.1h1.4v73.7h-1.4zM803.77 487.1h1.4v59.6h-1.4zM806.39 487.1h1.4v63.4h-1.4zM809.00 487.1h1.4v50.5h-1.4zM811.61 487.1h1.4v52.0h-1.4zM814.22 487.1h1.4v42.9h-1.4zM816.84 487.1h1.4v50.5h-1.4zM819.45 487.1h1.4v52.7h-1.4zM822.06 487.1h1.4v45.2h-1.4zM824.67 487.1h1.4v46.7h-1.4zM827.29 487.1h1.4v47.4h-1.4zM829.90 487.1h1.4v15.6h-1.4zM832.51 487.1h1.4v8.8h-1.4zM835.12 487.1h1.4v81.5h-1.4zM837.74 487.1h1.4v70.9h-1.4zM840.35 487.1h1.4v72.4h-1.4zM842.96 487.1h1.4v63.4h-1.4zM845.57 487.1h1.4v68.4h-1.4zM848.19 487.1h1.4v72.4h-1.4zM850.80 487.1h1.4v72.4h-1.4zM853.41 487.1h1.4v64.9h-1.4zM856.02 487.1h1.4v58.1h-1.4zM858.64 487.1h1.4v58.1h-1.4zM861.25 487.1h1.4v65.6h-1.4zM863.86 487.1h1.4v68.4h-1.4zM866.47 487.1h1.4v68.9h-1.4zM869.09 487.1h1.4v69.4h-1.4zM871.70 487.1h1.4v34.6h-1.4zM876.92 452.4h1.4v34.7h-1.4zM879.54 452.4h1.4v34.7h-1.4zM882.15 475.8h1.4v11.3h-1.4zM884.76 466.7h1.4v20.4h-1.4zM887.37 472.7h1.4v14.4h-1.4zM889.99 487.1h1.4v5.8h-1.4zM892.60 484.8h1.4v2.3h-1.4zM895.21 487.1h1.4v16.4h-1.4zM897.82 487.1h1.4v11.1h-1.4zM900.44 487.1h1.4v13.8h-1.4zM903.05 487.1h1.4v2.0h-1.4zM905.66 487.1h1.4v25.5h-1.4zM908.27 487.1h1.4v41.4h-1.4zM910.89 487.1h1.4v42.4h-1.4zM913.50 481.8h1.4v5.3h-1.4zM916.11 457.6h1.4v29.5h-1.4zM918.72 468.2h1.4v18.9h-1.4zM921.34 474.2h1.4v12.9h-1.4zM923.95 472.7h1.4v14.4h-1.4zM926.56 474.2h1.4v12.9h-1.4zM929.17 483.3h1.4v3.8h-1.4zM931.79 487.1h1.4v12.6h-1.4zM934.40 487.1h1.4v11.4h-1.4zM937.01 487.1h1.4v5.8h-1.4zM939.62 487.1h1.4v12.6h-1.4zM942.24 487.1h1.4v5.0h-1.4zM944.85 478.8h1.4v8.3h-1.4zM947.46 477.3h1.4v9.8h-1.4zM950.07 480.9h1.4v6.2h-1.4zM952.69 481.8h1.4v5.3h-1.4zM955.30 456.1h1.4v31.0h-1.4zM957.91 456.1h1.4v31.0h-1.4zM960.52 448.5h1.4v38.6h-1.4zM963.14 441.8h1.4v45.3h-1.4zM965.75 440.9h1.4v46.2h-1.4zM968.36 434.8h1.4v52.3h-1.4zM970.97 431.8h1.4v55.3h-1.4zM973.59 345.5h1.4v141.6h-1.4zM976.20 348.5h1.4v138.6h-1.4zM978.81 350.0h1.4v137.1h-1.4zM981.42 339.4h1.4v147.7h-1.4zM984.04 328.8h1.4v158.3h-1.4zM986.65 342.4h1.4v144.7h-1.4zM989.26 340.9h1.4v146.2h-1.4zM991.87 339.4h1.4v147.7h-1.4zM994.49 319.7h1.4v167.4h-1.4zM997.10 304.5h1.4v182.6h-1.4zM999.71 312.1h1.4v175.0h-1.4zM1002.32 309.1h1.4v178.0h-1.4zM1004.94 285.8h1.4v201.3h-1.4zM1007.55 289.4h1.4v197.7h-1.4zM1010.16 289.4h1.4v197.7h-1.4zM1012.77 277.9h1.4v209.2h-1.4zM1015.39 269.7h1.4v217.4h-1.4zM1018.00 271.2h1.4v215.9h-1.4zM1020.61 263.6h1.4v223.5h-1.4zM1023.22 274.2h1.4v212.9h-1.4zM1025.84 281.8h1.4v205.3h-1.4zM1028.45 289.4h1.4v197.7h-1.4zM1031.06 312.1h1.4v175.0h-1.4zM1033.67 295.5h1.4v191.6h-1.4zM1036.29 316.7h1.4v170.4h-1.4zM1038.90 307.6h1.4v179.5h-1.4zM1041.51 316.7h1.4v170.4h-1.4zM1044.12 283.3h1.4v203.8h-1.4zM1046.74 282.7h1.4v204.4h-1.4zM1049.35 334.8h1.4v152.3h-1.4zM1051.96 389.4h1.4v97.7h-1.4zM1054.58 373.6h1.4v113.5h-1.4zM1057.19 378.8h1.4v108.3h-1.4zM1059.80 383.3h1.4v103.8h-1.4zM1062.41 384.8h1.4v102.3h-1.4zM1065.02 377.3h1.4v109.8h-1.4zM1067.64 365.2h1.4v121.9h-1.4zM1070.25 372.7h1.4v114.4h-1.4zM1072.86 386.4h1.4v100.7h-1.4zM1075.47 421.2h1.4v65.9h-1.4zM1078.09 386.4h1.4v100.7h-1.4zM1080.70 381.8h1.4v105.3h-1.4zM1083.31 383.3h1.4v103.8h-1.4zM1085.92 336.4h1.4v150.7h-1.4zM1088.54 340.9h1.4v146.2h-1.4zM1091.15 357.6h1.4v129.5h-1.4zM1093.76 354.5h1.4v132.6h-1.4zM1096.38 360.6h1.4v126.5h-1.4zM1098.99 366.7h1.4v120.4h-1.4zM1101.60 371.2h1.4v115.9h-1.4zM1104.21 366.7h1.4v120.4h-1.4zM1106.83 309.1h1.4v178.0h-1.4zM1109.44 301.5h1.4v185.6h-1.4zM1112.05 359.1h1.4v128.0h-1.4zM1114.66 347.0h1.4v140.1h-1.4zM1117.27 377.3h1.4v109.8h-1.4zM1119.89 318.2h1.4v168.9h-1.4zM1122.50 362.1h1.4v125.0h-1.4zM1125.11 353.0h1.4v134.1h-1.4zM1127.72 307.6h1.4v179.5h-1.4zM1130.34 322.7h1.4v164.4h-1.4zM1132.95 325.8h1.4v161.3h-1.4zM1135.56 348.5h1.4v138.6h-1.4zM1138.17 349.4h1.4v137.7h-1.4zM1140.79 349.4h1.4v137.7h-1.4zM1143.40 338.8h1.4v148.3h-1.4zM1146.01 351.5h1.4v135.6h-1.4zM1148.62 360.6h1.4v126.5h-1.4zM1151.24 351.5h1.4v135.6h-1.4zM1153.85 363.6h1.4v123.5h-1.4zM1156.46 339.4h1.4v147.7h-1.4zM1159.07 363.6h1.4v123.5h-1.4zM1161.69 360.6h1.4v126.5h-1.4zM1164.30 389.4h1.4v97.7h-1.4zM1166.91 368.2h1.4v118.9h-1.4zM1169.52 368.8h1.4v118.3h-1.4zM1172.14 387.9h1.4v99.2h-1.4zM1174.75 325.8h1.4v161.3h-1.4zM1177.36 360.6h1.4v126.5h-1.4zM1179.97 311.5h1.4v175.6h-1.4zM1182.59 333.3h1.4v153.8h-1.4zM1185.20 459.1h1.4v28.0h-1.4zM1187.81 450.0h1.4v37.1h-1.4zM1190.42 469.7h1.4v17.4h-1.4zM1193.04 468.8h1.4v18.3h-1.4zM1195.65 439.4h1.4v47.7h-1.4zM1198.26 487.1h1.4v3.5h-1.4zM1200.87 487.1h1.4v20.5h-1.4zM1203.49 487.1h1.4v26.2h-1.4zM1206.10 487.1h1.4v25.5h-1.4zM1208.71 487.1h1.4v42.1h-1.4zM1211.32 487.1h1.4v83.8h-1.4zM1213.94 487.1h1.4v21.7h-1.4zM1216.55 487.1h1.4v11.1h-1.4zM1219.16 487.1h1.4v11.1h-1.4zM1221.77 487.1h1.4v15.6h-1.4zM1224.39 487.1h1.4v3.5h-1.4zM1234.84 487.1h1.4v56.5h-1.4zM1237.45 487.1h1.4v32.0h-1.4zM1240.06 487.1h1.4v36.1h-1.4zM1242.67 487.1h1.4v55.0h-1.4zM1245.29 487.1h1.4v81.2h-1.4zM1247.90 487.1h1.4v91.4h-1.4zM1250.51 487.1h1.4v81.2h-1.4zM1253.12 487.1h1.4v100.5h-1.4zM1255.74 487.1h1.4v46.2h-1.4zM1258.35 487.1h1.4v99.4h-1.4zM1260.96 487.1h1.4v61.8h-1.4zM1263.57 478.3h1.4v8.8h-1.4zM1266.19 432.5h1.4v54.6h-1.4zM1268.80 382.5h1.4v104.6h-1.4zM1271.41 368.6h1.4v118.5h-1.4zM1274.02 372.8h1.4v114.3h-1.4zM1276.64 374.2h1.4v112.9h-1.4zM1279.25 343.6h1.4v143.5h-1.4zM1281.86 331.7h1.4v155.4h-1.4zM1284.47 349.2h1.4v137.9h-1.4zM1287.09 328.3h1.4v158.8h-1.4zM1289.70 267.2h1.4v219.9h-1.4zM1292.31 315.8h1.4v171.3h-1.4zM1294.92 339.4h1.4v147.7h-1.4zM1297.54 327.8h1.4v159.3h-1.4zM1300.15 332.5h1.4v154.6h-1.4zM1302.76 266.9h1.4v220.2h-1.4zM1305.37 261.4h1.4v225.7h-1.4zM1307.99 190.6h1.4v296.5h-1.4zM1310.60 205.8h1.4v281.3h-1.4zM1313.21 187.2h1.4v299.9h-1.4zM1315.82 212.8h1.4v274.3h-1.4zM1318.44 214.2h1.4v272.9h-1.4zM1321.05 118.3h1.4v368.8h-1.4zM1323.66 167.8h1.4v319.3h-1.4zM1326.27 208.6h1.4v278.5h-1.4zM1328.89 223.9h1.4v263.2h-1.4zM1331.50 254.4h1.4v232.7h-1.4zM1334.11 271.1h1.4v216.0h-1.4zM1336.72 280.0h1.4v207.1h-1.4zM1339.34 290.0h1.4v197.1h-1.4zM1341.95 295.0h1.4v192.1h-1.4zM1344.56 345.0h1.4v142.1h-1.4zM1347.17 351.9h1.4v135.2h-1.4zM1349.79 311.9h1.4v175.2h-1.4zM1352.40 391.1h1.4v96.0h-1.4z" fill="#00ff00" fill-opacity="0.9"/>
<path d="M119.60 487.1h1.4v20.2h-1.4zM122.21 487.1h1.4v19.4h-1.4zM124.82 487.1h1.4v20.9h-1.4zM127.44 487.1h1.4v20.2h-1.4zM130.05 487.1h1.4v18.7h-1.4zM132.66 487.1h1.4v18.7h-1.4zM135.28 487.1h1.4v17.1h-1.4zM137.89 487.1h1.4v15.6h-1.4zM140.50 476.1h1.4v11.0h-1.4zM143.11 479.4h1.4v7.7h-1.4zM145.73 482.7h1.4v4.4h-1.4zM148.34 481.4h1.4v5.7h-1.4zM150.95 473.4h1.4v13.7h-1.4zM153.56 478.7h1.4v8.4h-1.4zM156.18 482.7h1.4v4.4h-1.4zM158.79 484.0h1.4v3.1h-1.4zM161.40 485.4h1.4v1.7h-1.4zM166.62 484.0h1.4v3.1h-1.4zM169.24 468.1h1.4v19.0h-1.4zM171.85 462.8h1.4v24.3h-1.4zM174.46 457.5h1.4v29.6h-1.4zM177.07 472.1h1.4v15.0h-1.4zM179.69 473.4h1.4v13.7h-1.4zM182.30 469.5h1.4v17.6h-1.4zM184.91 469.5h1.4v17.6h-1.4zM187.53 472.9h1.4v14.2h-1.4zM190.14 465.5h1.4v21.6h-1.4zM192.75 477.4h1.4v9.7h-1.4zM203.20 483.5h1.4v3.6h-1.4zM205.81 484.6h1.4v2.5h-1.4zM208.43 482.7h1.4v4.4h-1.4zM211.04 484.0h1.4v3.1h-1.4zM213.65 478.2h1.4v8.9h-1.4zM216.26 478.2h1.4v8.9h-1.4zM218.88 478.2h1.4v8.9h-1.4zM221.49 472.1h1.4v15.0h-1.4zM224.10 474.8h1.4v12.3h-1.4zM226.71 469.5h1.4v17.6h-1.4zM229.32 465.5h1.4v21.6h-1.4zM231.94 461.5h1.4v25.6h-1.4zM234.55 439.0h1.4v48.1h-1.4zM237.16 437.7h1.4v49.4h-1.4zM239.78 436.3h1.4v50.8h-1.4zM242.39 433.7h1.4v53.4h-1.4zM245.00 432.4h1.4v54.7h-1.4zM247.61 439.0h1.4v48.1h-1.4zM250.23 440.3h1.4v46.8h-1.4zM252.84 436.3h1.4v50.8h-1.4zM255.45 435.7h1.4v51.4h-1.4zM258.06 435.0h1.4v52.1h-1.4zM260.68 435.7h1.4v51.4h-1.4zM263.29 436.3h1.4v50.8h-1.4zM265.90 437.0h1.4v50.1h-1.4zM268.51 437.7h1.4v49.4h-1.4zM271.12 437.0h1.4v50.1h-1.4zM273.74 436.3h1.4v50.8h-1.4zM276.35 437.0h1.4v50.1h-1.4zM278.96 437.7h1.4v49.4h-1.4zM281.57 439.6h1.4v47.5h-1.4zM284.19 441.6h1.4v45.5h-1.4zM286.80 443.6h1.4v43.5h-1.4zM289.41 445.6h1.4v41.5h-1.4zM292.02 447.6h1.4v39.5h-1.4zM294.64 449.6h1.4v37.5h-1.4zM297.25 450.9h1.4v36.2h-1.4zM299.86 452.2h1.4v34.9h-1.4zM302.48 455.5h1.4v31.6h-1.4zM305.09 453.6h1.4v33.5h-1.4zM307.70 479.5h1.4v7.6h-1.4zM310.31 484.5h1.4v2.6h-1.4zM312.93 487.1h1.4v13.8h-1.4zM315.54 487.1h1.4v7.7h-1.4zM318.15 487.1h1.4v7.7h-1.4zM325.99 487.1h1.4v3.8h-1.4zM336.44 487.1h1.4v11.4h-1.4zM339.05 487.1h1.4v16.8h-1.4zM341.66 487.1h1.4v19.4h-1.4zM344.27 487.1h1.4v17.9h-1.4zM346.89 487.1h1.4v15.6h-1.4zM349.50 487.1h1.4v15.6h-1.4zM352.11 487.1h1.4v30.8h-1.4zM354.72 487.1h1.4v2.0h-1.4zM357.34 487.1h1.4v4.7h-1.4zM359.95 487.1h1.4v51.7h-1.4zM362.56 487.1h1.4v53.1h-1.4zM365.18 487.1h1.4v49.0h-1.4zM367.79 487.1h1.4v44.9h-1.4zM370.40 487.1h1.4v49.3h-1.4zM373.01 487.1h1.4v46.7h-1.4zM375.62 487.1h1.4v56.5h-1.4zM378.24 487.1h1.4v72.4h-1.4zM380.85 487.1h1.4v56.8h-1.4zM383.46 487.1h1.4v55.5h-1.4zM386.07 487.1h1.4v8.1h-1.4zM388.69 487.1h1.4v37.6h-1.4zM391.30 487.1h1.4v16.7h-1.4zM393.91 487.1h1.4v17.9h-1.4zM396.52 487.1h1.4v2.3h-1.4zM399.14 435.3h1.4v51.8h-1.4zM401.75 439.1h1.4v48.0h-1.4zM404.36 441.6h1.4v45.5h-1.4zM406.98 444.1h1.4v43.0h-1.4zM409.59 439.1h1.4v48.0h-1.4zM412.20 434.0h1.4v53.1h-1.4zM414.81 432.7h1.4v54.4h-1.4zM417.43 427.7h1.4v59.4h-1.4zM420.04 421.4h1.4v65.7h-1.4zM422.65 423.9h1.4v63.2h-1.4zM425.26 427.7h1.4v59.4h-1.4zM427.88 411.3h1.4v75.8h-1.4zM430.49 408.7h1.4v78.4h-1.4zM433.10 411.3h1.4v75.8h-1.4zM435.71 406.2h1.4v80.9h-1.4zM438.32 363.3h1.4v123.8h-1.4zM440.94 372.1h1.4v115.0h-1.4zM443.55 365.8h1.4v121.3h-1.4zM446.16 339.3h1.4v147.8h-1.4zM448.77 349.4h1.4v137.7h-1.4zM451.39 344.3h1.4v142.8h-1.4zM454.00 340.5h1.4v146.6h-1.4zM456.61 319.1h1.4v168.0h-1.4zM459.23 321.6h1.4v165.5h-1.4zM461.84 307.2h1.4v179.9h-1.4zM464.45 349.4h1.4v137.7h-1.4zM467.06 348.1h1.4v139.0h-1.4zM469.68 340.5h1.4v146.6h-1.4zM472.29 345.6h1.4v141.5h-1.4zM474.90 408.7h1.4v78.4h-1.4zM477.51 416.3h1.4v70.8h-1.4zM480.12 427.7h1.4v59.4h-1.4zM482.74 435.3h1.4v51.8h-1.4zM485.35 446.6h1.4v40.5h-1.4zM487.96 456.2h1.4v30.9h-1.4zM490.57 469.4h1.4v17.7h-1.4zM493.19 461.8h1.4v25.3h-1.4zM495.80 466.9h1.4v20.2h-1.4zM498.41 464.3h1.4v22.8h-1.4zM501.02 449.9h1.4v37.2h-1.4zM503.64 408.2h1.4v78.9h-1.4zM506.25 441.1h1.4v46.0h-1.4zM508.86 453.0h1.4v34.1h-1.4zM511.47 451.2h1.4v35.9h-1.4zM527.15 487.1h1.4v5.0h-1.4zM529.76 487.1h1.4v4.3h-1.4zM534.99 487.1h1.4v17.9h-1.4zM537.60 487.1h1.4v23.2h-1.4zM540.21 487.1h1.4v15.6h-1.4zM542.82 487.1h1.4v23.2h-1.4zM545.44 487.1h1.4v38.4h-1.4zM548.05 487.1h1.4v61.8h-1.4zM550.66 487.1h1.4v80.5h-1.4zM553.27 487.1h1.4v59.6h-1.4zM555.89 487.1h1.4v68.4h-1.4zM558.50 487.1h1.4v54.3h-1.4zM561.11 487.1h1.4v76.2h-1.4zM563.72 487.1h1.4v50.5h-1.4zM566.34 487.1h1.4v49.0h-1.4zM568.95 487.1h1.4v47.4h-1.4zM571.56 487.1h1.4v49.0h-1.4zM574.17 487.1h1.4v23.2h-1.4zM576.79 487.1h1.4v38.4h-1.4zM579.40 487.1h1.4v46.7h-1.4zM582.01 487.1h1.4v55.0h-1.4zM584.62 487.1h1.4v83.8h-1.4zM587.24 487.1h1.4v72.4h-1.4zM589.85 487.1h1.4v68.4h-1.4zM592.46 487.1h1.4v53.5h-1.4zM595.07 487.1h1.4v73.5h-1.4zM597.69 487.1h1.4v68.8h-1.4zM600.30 487.1h1.4v64.1h-1.4zM602.91 487.1h1.4v78.5h-1.4zM605.52 487.1h1.4v83.8h-1.4zM608.14 487.1h1.4v85.3h-1.4zM610.75 487.1h1.4v85.3h-1.4zM613.36 487.1h1.4v80.0h-1.4zM615.97 487.1h1.4v81.2h-1.4zM618.59 487.1h1.4v112.6h-1.4zM621.20 487.1h1.4v91.4h-1.4zM623.81 487.1h1.4v92.9h-1.4zM626.42 487.1h1.4v86.1h-1.4zM629.04 487.1h1.4v102.0h-1.4zM631.65 487.1h1.4v98.2h-1.4zM634.26 487.1h1.4v90.3h-1.4zM636.87 487.1h1.4v74.7h-1.4zM639.49 487.1h1.4v74.7h-1.4zM642.10 487.1h1.4v72.1h-1.4zM644.71 487.1h1.4v69.4h-1.4zM647.32 487.1h1.4v63.1h-1.4zM649.94 487.1h1.4v37.3h-1.4zM652.55 487.1h1.4v56.5h-1.4zM655.16 487.1h1.4v30.8h-1.4zM657.77 487.1h1.4v23.2h-1.4zM660.39 487.1h1.4v8.5h-1.4zM663.00 487.1h1.4v16.4h-1.4zM665.61 487.1h1.4v19.0h-1.4zM668.22 487.1h1.4v28.2h-1.4zM670.84 487.1h1.4v20.5h-1.4zM673.45 446.6h1.4v40.5h-1.4zM676.06 441.6h1.4v45.5h-1.4zM678.67 466.9h1.4v20.2h-1.4zM681.29 464.3h1.4v22.8h-1.4zM683.90 461.8h1.4v25.3h-1.4zM686.51 450.4h1.4v36.7h-1.4zM689.12 458.0h1.4v29.1h-1.4zM691.74 436.5h1.4v50.6h-1.4zM694.35 446.6h1.4v40.5h-1.4zM696.96 398.6h1.4v88.5h-1.4zM699.57 396.1h1.4v91.0h-1.4zM702.19 390.6h1.4v96.5h-1.4zM704.80 397.4h1.4v89.7h-1.4zM707.41 401.2h1.4v85.9h-1.4zM710.02 401.2h1.4v85.9h-1.4zM712.64 400.4h1.4v86.7h-1.4zM715.25 411.3h1.4v75.8h-1.4zM717.86 416.3h1.4v70.8h-1.4zM720.47 421.4h1.4v65.7h-1.4zM723.09 406.2h1.4v80.9h-1.4zM725.70 432.7h1.4v54.4h-1.4zM728.31 436.5h1.4v50.6h-1.4zM730.92 430.7h1.4v56.4h-1.4zM733.54 456.8h1.4v30.3h-1.4zM736.15 456.8h1.4v30.3h-1.4zM738.76 469.4h1.4v17.7h-1.4zM741.37 463.1h1.4v24.0h-1.4zM743.99 468.1h1.4v19.0h-1.4zM746.60 454.2h1.4v32.9h-1.4zM749.21 468.1h1.4v19.0h-1.4zM751.82 482.0h1.4v5.1h-1.4zM754.44 478.2h1.4v8.9h-1.4zM757.05 483.7h1.4v3.4h-1.4zM759.66 487.1h1.4v2.1h-1.4zM762.27 487.1h1.4v7.6h-1.4zM764.89 487.1h1.4v13.2h-1.4zM767.50 487.1h1.4v18.7h-1.4zM770.11 487.1h1.4v14.1h-1.4zM798.85 487.1h1.4v38.4h-1.4zM801.46 487.1h1.4v45.9h-1.4zM804.07 487.1h1.4v52.0h-1.4zM806.69 487.1h1.4v52.0h-1.4zM809.30 487.1h1.4v55.8h-1.4zM811.91 487.1h1.4v69.4h-1.4zM814.52 487.1h1.4v49.0h-1.4zM817.14 487.1h1.4v49.7h-1.4zM819.75 487.1h1.4v52.0h-1.4zM822.36 487.1h1.4v52.7h-1.4zM824.97 487.1h1.4v50.2h-1.4zM827.59 487.1h1.4v55.5h-1.4zM830.20 487.1h1.4v58.1h-1.4zM832.81 487.1h1.4v70.9h-1.4zM835.42 487.1h1.4v58.1h-1.4zM838.04 487.1h1.4v49.0h-1.4zM840.65 487.1h1.4v47.4h-1.4zM843.26 487.1h1.4v44.4h-1.4zM845.87 487.1h1.4v46.7h-1.4zM848.49 487.1h1.4v49.0h-1.4zM851.10 487.1h1.4v52.7h-1.4zM853.71 487.1h1.4v58.1h-1.4zM856.32 487.1h1.4v65.6h-1.4zM858.94 487.1h1.4v64.4h-1.4zM861.55 487.1h1.4v69.4h-1.4zM864.16 487.1h1.4v45.9h-1.4zM866.77 487.1h1.4v41.4h-1.4zM869.39 487.1h1.4v36.8h-1.4zM872.00 487.1h1.4v23.2h-1.4zM874.61 487.1h1.4v20.5h-1.4zM877.22 487.1h1.4v12.6h-1.4zM882.45 466.7h1.4v20.4h-1.4zM885.06 467.6h1.4v19.5h-1.4zM887.67 466.7h1.4v20.4h-1.4zM890.29 472.7h1.4v14.4h-1.4zM892.90 468.2h1.4v18.9h-1.4zM895.51 469.7h1.4v17.4h-1.4zM898.12 468.2h1.4v18.9h-1.4zM900.74 477.3h1.4v9.8h-1.4zM903.35 468.2h1.4v18.9h-1.4zM905.96 459.1h1.4v28.0h-1.4zM908.57 448.5h1.4v38.6h-1.4zM911.19 442.4h1.4v44.7h-1.4zM913.80 439.4h1.4v47.7h-1.4zM916.41 434.8h1.4v52.3h-1.4zM919.02 439.4h1.4v47.7h-1.4zM921.64 434.8h1.4v52.3h-1.4zM924.25 436.4h1.4v50.7h-1.4zM926.86 425.2h1.4v61.9h-1.4zM929.47 424.2h1.4v62.9h-1.4zM932.09 420.6h1.4v66.5h-1.4zM934.70 431.8h1.4v55.3h-1.4zM937.31 426.7h1.4v60.4h-1.4zM939.92 431.8h1.4v55.3h-1.4zM942.54 465.2h1.4v21.9h-1.4zM945.15 469.7h1.4v17.4h-1.4zM947.76 471.2h1.4v15.9h-1.4zM950.37 471.2h1.4v15.9h-1.4zM952.99 454.2h1.4v32.9h-1.4zM955.60 437.3h1.4v49.8h-1.4zM958.21 443.9h1.4v43.2h-1.4zM960.82 453.0h1.4v34.1h-1.4zM963.44 443.9h1.4v43.2h-1.4zM966.05 419.7h1.4v67.4h-1.4zM968.66 409.1h1.4v78.0h-1.4zM971.27 410.6h1.4v76.5h-1.4zM973.89 365.2h1.4v121.9h-1.4zM976.50 304.5h1.4v182.6h-1.4zM979.11 290.9h1.4v196.2h-1.4zM981.72 295.5h1.4v191.6h-1.4zM984.34 313.6h1.4v173.5h-1.4zM986.95 310.6h1.4v176.5h-1.4zM989.56 304.5h1.4v182.6h-1.4zM992.17 309.1h1.4v178.0h-1.4zM994.79 366.7h1.4v120.4h-1.4zM997.40 337.9h1.4v149.2h-1.4zM1000.01 363.6h1.4v123.5h-1.4zM1002.62 362.1h1.4v125.0h-1.4zM1005.24 363.6h1.4v123.5h-1.4zM1007.85 365.2h1.4v121.9h-1.4zM1010.46 366.7h1.4v120.4h-1.4zM1013.07 369.7h1.4v117.4h-1.4zM1015.69 319.7h1.4v167.4h-1.4zM1018.30 313.6h1.4v173.5h-1.4zM1020.91 301.5h1.4v185.6h-1.4zM1023.52 310.6h1.4v176.5h-1.4zM1026.14 304.5h1.4v182.6h-1.4zM1028.75 315.2h1.4v171.9h-1.4zM1031.36 316.7h1.4v170.4h-1.4zM1033.97 328.8h1.4v158.3h-1.4zM1036.59 339.4h1.4v147.7h-1.4zM1039.20 342.4h1.4v144.7h-1.4zM1041.81 348.5h1.4v138.6h-1.4zM1044.42 386.4h1.4v100.7h-1.4zM1047.04 392.4h1.4v94.7h-1.4zM1049.65 401.5h1.4v85.6h-1.4zM1052.26 413.6h1.4v73.5h-1.4zM1054.88 462.1h1.4v25.0h-1.4zM1065.32 487.1h1.4v5.0h-1.4zM1067.94 487.1h1.4v11.4h-1.4zM1070.55 487.1h1.4v5.7h-1.4zM1075.77 437.9h1.4v49.2h-1.4zM1078.39 431.8h1.4v55.3h-1.4zM1081.00 419.7h1.4v67.4h-1.4zM1083.61 356.1h1.4v131.0h-1.4zM1086.22 371.2h1.4v115.9h-1.4zM1088.84 372.7h1.4v114.4h-1.4zM1091.45 375.8h1.4v111.3h-1.4zM1094.06 395.5h1.4v91.6h-1.4zM1096.67 413.6h1.4v73.5h-1.4zM1099.29 431.8h1.4v55.3h-1.4zM1101.90 437.9h1.4v49.2h-1.4zM1104.51 443.9h1.4v43.2h-1.4zM1107.12 451.5h1.4v35.6h-1.4zM1109.74 459.1h1.4v28.0h-1.4zM1112.35 487.1h1.4v11.4h-1.4zM1114.96 483.3h1.4v3.8h-1.4zM1117.57 468.2h1.4v18.9h-1.4zM1120.19 487.1h1.4v7.3h-1.4zM1122.80 462.1h1.4v25.0h-1.4zM1125.41 443.9h1.4v43.2h-1.4zM1128.02 447.0h1.4v40.1h-1.4zM1130.64 477.3h1.4v9.8h-1.4zM1135.86 487.1h1.4v2.3h-1.4zM1141.09 487.1h1.4v24.4h-1.4zM1143.70 487.1h1.4v3.5h-1.4zM1146.31 487.1h1.4v17.9h-1.4zM1148.92 487.1h1.4v23.2h-1.4zM1151.54 487.1h1.4v25.5h-1.4zM1154.15 487.1h1.4v47.4h-1.4zM1156.76 487.1h1.4v45.2h-1.4zM1159.37 487.1h1.4v5.8h-1.4zM1161.99 487.1h1.4v68.4h-1.4zM1164.60 487.1h1.4v45.9h-1.4zM1167.21 487.1h1.4v58.1h-1.4zM1169.82 487.1h1.4v65.9h-1.4zM1172.44 487.1h1.4v73.7h-1.4zM1175.05 487.1h1.4v55.0h-1.4zM1177.66 487.1h1.4v63.4h-1.4zM1180.27 487.1h1.4v11.4h-1.4zM1182.89 487.1h1.4v28.2h-1.4zM1185.50 487.1h1.4v21.7h-1.4zM1188.11 487.1h1.4v33.5h-1.4zM1190.72 487.1h1.4v13.8h-1.4zM1193.34 487.1h1.4v7.3h-1.4zM1195.95 474.2h1.4v12.9h-1.4zM1198.56 478.8h1.4v8.3h-1.4zM1209.01 487.1h1.4v28.5h-1.4zM1211.62 487.1h1.4v2.0h-1.4zM1214.24 487.1h1.4v39.9h-1.4zM1216.85 487.1h1.4v51.2h-1.4zM1219.46 487.1h1.4v21.7h-1.4zM1222.07 487.1h1.4v15.6h-1.4zM1224.69 478.3h1.4v8.8h-1.4zM1227.30 466.7h1.4v20.4h-1.4zM1229.91 456.1h1.4v31.0h-1.4zM1232.52 450.0h1.4v37.1h-1.4zM1235.14 463.1h1.4v24.0h-1.4zM1237.75 487.1h1.4v23.2h-1.4zM1240.36 487.1h1.4v17.9h-1.4zM1242.97 487.1h1.4v36.1h-1.4zM1245.59 487.1h1.4v21.7h-1.4zM1248.20 487.1h1.4v14.5h-1.4zM1250.81 487.1h1.4v7.2h-1.4zM1256.04 474.2h1.4v12.9h-1.4zM1258.65 407.5h1.4v79.6h-1.4zM1261.26 397.8h1.4v89.3h-1.4zM1263.87 366.7h1.4v120.4h-1.4zM1266.49 386.7h1.4v100.4h-1.4zM1269.10 386.7h1.4v100.4h-1.4zM1271.71 370.0h1.4v117.1h-1.4zM1274.32 375.6h1.4v111.5h-1.4zM1276.94 363.1h1.4v124.0h-1.4zM1279.55 353.3h1.4v133.8h-1.4zM1282.16 361.7h1.4v125.4h-1.4zM1284.77 364.4h1.4v122.7h-1.4zM1287.39 356.1h1.4v131.0h-1.4zM1290.00 367.2h1.4v119.9h-1.4zM1292.61 365.8h1.4v121.3h-1.4zM1295.22 353.3h1.4v133.8h-1.4zM1297.84 349.9h1.4v137.2h-1.4zM1300.45 346.4h1.4v140.7h-1.4zM1303.06 322.8h1.4v164.3h-1.4zM1305.67 320.0h1.4v167.1h-1.4zM1308.29 317.2h1.4v169.9h-1.4zM1310.90 254.4h1.4v232.7h-1.4zM1313.51 251.7h1.4v235.4h-1.4zM1316.12 250.3h1.4v236.8h-1.4zM1318.74 212.8h1.4v274.3h-1.4zM1321.35 211.4h1.4v275.7h-1.4zM1323.96 210.0h1.4v277.1h-1.4zM1326.57 193.3h1.4v293.8h-1.4zM1329.19 190.6h1.4v296.5h-1.4zM1331.80 169.7h1.4v317.4h-1.4zM1334.41 172.5h1.4v314.6h-1.4zM1337.02 182.2h1.4v304.9h-1.4zM1339.64 148.9h1.4v338.2h-1.4zM1342.25 176.7h1.4v310.4h-1.4zM1344.86 115.6h1.4v371.5h-1.4zM1347.47 112.8h1.4v374.3h-1.4zM1350.09 257.2h1.4v229.9h-1.4zM1352.70 289.2h1.4v197.9h-1.4z" fill="#ff0000" fill-opacity="0.4"/>
<path d="M119.90 487.1h1.4v59.6h-1.4zM122.51 487.1h1.4v59.6h-1.4zM125.12 487.1h1.4v60.3h-1.4zM127.74 487.1h1.4v59.6h-1.4zM130.35 487.1h1.4v59.6h-1.4zM132.96 487.1h1.4v59.6h-1.4zM135.58 487.1h1.4v68.2h-1.4zM138.19 487.1h1.4v67.1h-1.4zM140.80 487.1h1.4v33.5h-1.4zM143.41 487.1h1.4v17.1h-1.4zM146.03 487.1h1.4v7.3h-1.4zM148.64 487.1h1.4v8.5h-1.4zM151.25 487.1h1.4v5.0h-1.4zM153.86 487.1h1.4v3.5h-1.4zM156.48 487.1h1.4v5.8h-1.4zM159.09 487.1h1.4v7.3h-1.4zM161.70 487.1h1.4v7.3h-1.4zM164.31 487.1h1.4v3.5h-1.4zM166.93 487.1h1.4v4.3h-1.4zM169.54 487.1h1.4v2.0h-1.4zM172.15 487.1h1.4v8.1h-1.4zM174.76 487.1h1.4v13.4h-1.4zM177.38 487.1h1.4v6.5h-1.4zM179.99 487.1h1.4v5.8h-1.4zM182.60 487.1h1.4v9.6h-1.4zM185.21 487.1h1.4v8.1h-1.4zM187.83 487.1h1.4v13.4h-1.4zM190.44 487.1h1.4v12.3h-1.4zM193.05 487.1h1.4v8.1h-1.4zM195.66 487.1h1.4v9.6h-1.4zM198.28 487.1h1.4v7.3h-1.4zM200.89 487.1h1.4v6.5h-1.4zM203.50 487.1h1.4v5.0h-1.4zM206.11 487.1h1.4v4.3h-1.4zM208.73 487.1h1.4v3.5h-1.4zM211.34 487.1h1.4v2.7h-1.4zM213.95 487.1h1.4v2.0h-1.4zM216.56 487.1h1.4v1.2h-1.4zM224.40 486.2h1.4v0.9h-1.4zM227.01 485.8h1.4v1.3h-1.4zM229.62 485.4h1.4v1.7h-1.4zM232.24 462.8h1.4v24.3h-1.4zM234.85 461.5h1.4v25.6h-1.4zM237.46 460.2h1.4v26.9h-1.4zM240.08 458.9h1.4v28.2h-1.4zM242.69 457.5h1.4v29.6h-1.4zM245.30 460.2h1.4v26.9h-1.4zM247.91 456.2h1.4v30.9h-1.4zM250.53 449.6h1.4v37.5h-1.4zM253.14 436.3h1.4v50.8h-1.4zM255.75 433.7h1.4v53.4h-1.4zM258.36 425.7h1.4v61.4h-1.4zM260.98 424.4h1.4v62.7h-1.4zM263.59 421.8h1.4v65.3h-1.4zM266.20 420.4h1.4v66.7h-1.4zM268.81 417.8h1.4v69.3h-1.4zM271.43 415.1h1.4v72.0h-1.4zM274.04 404.5h1.4v82.6h-1.4zM276.65 412.5h1.4v74.6h-1.4zM279.26 413.8h1.4v73.3h-1.4zM281.88 409.8h1.4v77.3h-1.4zM284.49 403.2h1.4v83.9h-1.4zM287.10 408.5h1.4v78.6h-1.4zM289.71 411.2h1.4v75.9h-1.4zM292.32 413.8h1.4v73.3h-1.4zM294.94 416.5h1.4v70.6h-1.4zM297.55 417.8h1.4v69.3h-1.4zM300.16 420.4h1.4v66.7h-1.4zM302.78 424.4h1.4v62.7h-1.4zM305.39 436.5h1.4v50.6h-1.4zM308.00 451.7h1.4v35.4h-1.4zM310.61 456.8h1.4v30.3h-1.4zM313.23 461.8h1.4v25.3h-1.4zM315.84 451.7h1.4v35.4h-1.4zM318.45 439.1h1.4v48.0h-1.4zM321.06 423.9h1.4v63.2h-1.4zM323.68 399.9h1.4v87.2h-1.4zM326.29 401.2h1.4v85.9h-1.4zM328.90 415.1h1.4v72.0h-1.4zM331.51 425.2h1.4v61.9h-1.4zM334.12 427.7h1.4v59.4h-1.4zM336.74 441.6h1.4v45.5h-1.4zM339.35 447.9h1.4v39.2h-1.4zM341.96 466.9h1.4v20.2h-1.4zM344.57 470.6h1.4v16.5h-1.4zM347.19 466.9h1.4v20.2h-1.4zM349.80 477.0h1.4v10.1h-1.4zM352.41 482.0h1.4v5.1h-1.4zM355.02 468.1h1.4v19.0h-1.4zM357.64 478.2h1.4v8.9h-1.4zM360.25 484.5h1.4v2.6h-1.4zM368.09 483.8h1.4v3.3h-1.4zM370.70 480.6h1.4v6.5h-1.4zM373.31 477.3h1.4v9.8h-1.4zM375.93 474.1h1.4v13.0h-1.4zM378.54 470.8h1.4v16.3h-1.4zM381.15 467.6h1.4v19.5h-1.4zM383.76 464.3h1.4v22.8h-1.4zM386.38 401.2h1.4v85.9h-1.4zM388.99 405.0h1.4v82.1h-1.4zM391.60 411.3h1.4v75.8h-1.4zM394.21 415.1h1.4v72.0h-1.4zM396.82 429.0h1.4v58.1h-1.4zM399.44 439.1h1.4v48.0h-1.4zM402.05 431.5h1.4v55.6h-1.4zM404.66 430.2h1.4v56.9h-1.4zM407.28 422.6h1.4v64.5h-1.4zM409.89 410.0h1.4v77.1h-1.4zM412.50 412.5h1.4v74.6h-1.4zM415.11 398.6h1.4v88.5h-1.4zM417.73 406.2h1.4v80.9h-1.4zM420.34 396.1h1.4v91.0h-1.4zM422.95 374.6h1.4v112.5h-1.4zM425.56 388.5h1.4v98.6h-1.4zM428.18 394.9h1.4v92.2h-1.4zM430.79 374.6h1.4v112.5h-1.4zM433.40 391.1h1.4v96.0h-1.4zM436.01 387.3h1.4v99.8h-1.4zM438.62 382.2h1.4v104.9h-1.4zM441.24 386.0h1.4v101.1h-1.4zM443.85 381.0h1.4v106.1h-1.4zM446.46 391.1h1.4v96.0h-1.4zM449.07 388.5h1.4v98.6h-1.4zM451.69 391.1h1.4v96.0h-1.4zM454.30 375.9h1.4v111.2h-1.4zM456.91 382.2h1.4v104.9h-1.4zM459.53 363.3h1.4v123.8h-1.4zM462.14 382.2h1.4v104.9h-1.4zM464.75 420.1h1.4v67.0h-1.4zM467.36 431.5h1.4v55.6h-1.4zM469.98 436.5h1.4v50.6h-1.4zM472.59 441.6h1.4v45.5h-1.4zM475.20 454.2h1.4v32.9h-1.4zM477.81 464.3h1.4v22.8h-1.4zM480.43 469.4h1.4v17.7h-1.4zM483.04 487.1h1.4v24.7h-1.4zM485.65 487.1h1.4v39.9h-1.4zM488.26 487.1h1.4v53.1h-1.4zM490.88 487.1h1.4v54.3h-1.4zM493.49 487.1h1.4v41.4h-1.4zM496.10 487.1h1.4v49.0h-1.4zM498.71 487.1h1.4v54.3h-1.4zM501.32 487.1h1.4v8.5h-1.4zM503.94 487.1h1.4v3.5h-1.4zM506.55 487.1h1.4v25.5h-1.4zM509.16 487.1h1.4v15.6h-1.4zM514.39 487.1h1.4v5.8h-1.4zM517.00 477.0h1.4v10.1h-1.4zM519.61 476.2h1.4v10.9h-1.4zM522.22 485.8h1.4v1.3h-1.4zM524.84 487.1h1.4v8.5h-1.4zM527.45 477.0h1.4v10.1h-1.4zM530.06 482.0h1.4v5.1h-1.4zM535.29 487.1h1.4v5.0h-1.4zM537.90 487.1h1.4v8.1h-1.4zM540.51 487.1h1.4v23.2h-1.4zM543.12 487.1h1.4v41.4h-1.4zM545.74 487.1h1.4v51.2h-1.4zM548.35 487.1h1.4v56.5h-1.4zM550.96 487.1h1.4v42.9h-1.4zM553.57 487.1h1.4v35.3h-1.4zM556.19 487.1h1.4v38.4h-1.4zM558.80 487.1h1.4v25.5h-1.4zM561.41 487.1h1.4v51.2h-1.4zM564.02 487.1h1.4v27.0h-1.4zM566.64 487.1h1.4v16.4h-1.4zM569.25 487.1h1.4v8.8h-1.4zM571.86 487.1h1.4v17.9h-1.4zM574.47 487.1h1.4v21.7h-1.4zM577.09 487.1h1.4v24.7h-1.4zM579.70 487.1h1.4v35.7h-1.4zM582.31 487.1h1.4v46.7h-1.4zM584.92 487.1h1.4v48.2h-1.4zM587.54 487.1h1.4v41.4h-1.4zM590.15 487.1h1.4v54.3h-1.4zM592.76 487.1h1.4v52.7h-1.4zM595.37 487.1h1.4v60.3h-1.4zM597.99 487.1h1.4v61.8h-1.4zM600.60 487.1h1.4v63.4h-1.4zM603.21 487.1h1.4v59.6h-1.4zM605.82 487.1h1.4v69.4h-1.4zM608.44 487.1h1.4v52.0h-1.4zM611.05 487.1h1.4v52.7h-1.4zM613.66 487.1h1.4v51.2h-1.4zM616.27 487.1h1.4v44.4h-1.4zM618.89 487.1h1.4v19.4h-1.4zM621.50 487.1h1.4v10.3h-1.4zM624.11 487.1h1.4v10.3h-1.4zM626.72 487.1h1.4v17.9h-1.4zM629.34 487.1h1.4v19.4h-1.4zM631.95 487.1h1.4v19.4h-1.4zM647.62 455.5h1.4v31.6h-1.4zM650.24 432.7h1.4v54.4h-1.4zM652.85 431.5h1.4v55.6h-1.4zM655.46 397.4h1.4v89.7h-1.4zM658.07 402.4h1.4v84.7h-1.4zM660.69 417.6h1.4v69.5h-1.4zM663.30 417.6h1.4v69.5h-1.4zM665.91 415.1h1.4v72.0h-1.4zM668.52 412.5h1.4v74.6h-1.4zM671.14 403.7h1.4v83.4h-1.4zM673.75 408.7h1.4v78.4h-1.4zM676.36 406.2h1.4v80.9h-1.4zM678.97 403.7h1.4v83.4h-1.4zM681.59 397.4h1.4v89.7h-1.4zM684.20 387.8h1.4v99.3h-1.4zM686.81 412.5h1.4v74.6h-1.4zM689.42 403.7h1.4v83.4h-1.4zM692.04 405.0h1.4v82.1h-1.4zM694.65 405.0h1.4v82.1h-1.4zM697.26 410.0h1.4v77.1h-1.4zM699.87 411.3h1.4v75.8h-1.4zM702.49 413.8h1.4v73.3h-1.4zM705.10 391.8h1.4v95.3h-1.4zM707.71 403.7h1.4v83.4h-1.4zM710.32 405.0h1.4v82.1h-1.4zM712.94 406.2h1.4v80.9h-1.4zM715.55 413.8h1.4v73.3h-1.4zM718.16 422.6h1.4v64.5h-1.4zM720.77 427.7h1.4v59.4h-1.4zM723.39 455.5h1.4v31.6h-1.4zM726.00 478.2h1.4v8.9h-1.4zM728.61 478.2h1.4v8.9h-1.4zM731.22 487.1h1.4v14.1h-1.4zM733.84 487.1h1.4v25.5h-1.4zM736.45 487.1h1.4v14.1h-1.4zM739.06 487.1h1.4v11.8h-1.4zM741.67 487.1h1.4v24.7h-1.4zM744.29 487.1h1.4v15.6h-1.4zM746.90 487.1h1.4v24.0h-1.4zM749.51 487.1h1.4v17.9h-1.4zM752.12 487.1h1.4v25.5h-1.4zM754.74 487.1h1.4v25.5h-1.4zM757.35 487.1h1.4v43.7h-1.4zM759.96 487.1h1.4v37.3h-1.4zM762.57 487.1h1.4v30.0h-1.4zM765.19 487.1h1.4v27.0h-1.4zM767.80 487.1h1.4v11.1h-1.4zM770.41 487.1h1.4v27.0h-1.4zM773.02 487.1h1.4v30.8h-1.4zM775.64 487.1h1.4v17.9h-1.4zM778.25 487.1h1.4v28.5h-1.4zM780.86 487.1h1.4v34.6h-1.4zM783.47 487.1h1.4v32.0h-1.4zM786.09 487.1h1.4v49.0h-1.4zM788.70 487.1h1.4v38.4h-1.4zM791.31 487.1h1.4v37.3h-1.4zM793.92 487.1h1.4v42.4h-1.4zM796.54 487.1h1.4v37.3h-1.4zM799.15 487.1h1.4v45.2h-1.4zM801.76 487.1h1.4v60.3h-1.4zM804.37 487.1h1.4v52.0h-1.4zM806.99 487.1h1.4v50.5h-1.4zM809.60 487.1h1.4v51.2h-1.4zM812.21 487.1h1.4v54.3h-1.4zM814.82 487.1h1.4v27.7h-1.4zM817.44 487.1h1.4v41.4h-1.4zM820.05 487.1h1.4v42.9h-1.4zM822.66 487.1h1.4v41.4h-1.4zM825.27 487.1h1.4v42.9h-1.4zM827.89 487.1h1.4v37.6h-1.4zM830.50 487.1h1.4v2.0h-1.4zM833.11 487.1h1.4v2.0h-1.4zM835.72 487.1h1.4v22.4h-1.4zM838.34 487.1h1.4v24.7h-1.4zM840.95 487.1h1.4v24.7h-1.4zM843.56 487.1h1.4v26.2h-1.4zM846.17 487.1h1.4v26.2h-1.4zM848.79 487.1h1.4v24.7h-1.4zM851.40 487.1h1.4v24.0h-1.4zM854.01 487.1h1.4v32.3h-1.4zM856.62 487.1h1.4v35.3h-1.4zM859.24 487.1h1.4v33.8h-1.4zM861.85 487.1h1.4v50.5h-1.4zM864.46 487.1h1.4v45.2h-1.4zM867.07 487.1h1.4v40.6h-1.4zM869.69 487.1h1.4v36.1h-1.4zM872.30 487.1h1.4v30.8h-1.4zM874.91 487.1h1.4v16.4h-1.4zM880.14 487.1h1.4v2.3h-1.4zM882.75 480.3h1.4v6.8h-1.4zM885.36 474.2h1.4v12.9h-1.4zM887.97 474.2h1.4v12.9h-1.4zM890.59 487.1h1.4v5.8h-1.4zM895.81 484.8h1.4v2.3h-1.4zM898.42 480.3h1.4v6.8h-1.4zM901.04 474.2h1.4v12.9h-1.4zM903.65 475.8h1.4v11.3h-1.4zM906.26 477.3h1.4v9.8h-1.4zM908.87 487.1h1.4v20.9h-1.4zM911.49 487.1h1.4v16.4h-1.4zM914.10 481.8h1.4v5.3h-1.4zM916.71 468.2h1.4v18.9h-1.4zM919.32 468.2h1.4v18.9h-1.4zM921.94 469.7h1.4v17.4h-1.4zM924.55 472.7h1.4v14.4h-1.4zM927.16 471.2h1.4v15.9h-1.4zM929.77 459.1h1.4v28.0h-1.4zM932.39 460.6h1.4v26.5h-1.4zM935.00 453.0h1.4v34.1h-1.4zM937.61 465.2h1.4v21.9h-1.4zM940.22 466.7h1.4v20.4h-1.4zM942.84 465.2h1.4v21.9h-1.4zM945.45 474.2h1.4v12.9h-1.4zM948.06 480.3h1.4v6.8h-1.4zM950.67 487.1h1.4v8.5h-1.4zM953.29 487.1h1.4v1.2h-1.4zM955.90 487.1h1.4v0.6h-1.4zM961.12 487.1h1.4v2.3h-1.4zM963.74 481.8h1.4v5.3h-1.4zM966.35 477.3h1.4v9.8h-1.4zM968.96 472.7h1.4v14.4h-1.4zM971.57 471.2h1.4v15.9h-1.4zM974.19 471.2h1.4v15.9h-1.4zM976.80 469.7h1.4v17.4h-1.4zM979.41 468.2h1.4v18.9h-1.4zM982.02 475.8h1.4v11.3h-1.4zM984.64 480.3h1.4v6.8h-1.4zM987.25 487.1h1.4v15.3h-1.4zM989.86 487.1h1.4v1.2h-1.4zM992.47 487.1h1.4v2.3h-1.4zM995.09 487.1h1.4v1.2h-1.4zM1000.31 487.1h1.4v3.5h-1.4zM1002.92 487.1h1.4v6.2h-1.4zM1005.54 487.1h1.4v3.5h-1.4zM1008.15 487.1h1.4v15.3h-1.4zM1010.76 487.1h1.4v15.3h-1.4zM1013.37 487.1h1.4v7.3h-1.4zM1015.99 475.8h1.4v11.3h-1.4zM1018.60 462.1h1.4v25.0h-1.4zM1021.21 443.9h1.4v43.2h-1.4zM1023.82 442.4h1.4v44.7h-1.4zM1026.44 443.9h1.4v43.2h-1.4zM1029.05 442.4h1.4v44.7h-1.4zM1031.66 443.9h1.4v43.2h-1.4zM1034.27 442.4h1.4v44.7h-1.4zM1036.89 477.3h1.4v9.8h-1.4zM1039.50 468.2h1.4v18.9h-1.4zM1042.11 463.6h1.4v23.5h-1.4zM1044.72 465.2h1.4v21.9h-1.4zM1047.34 466.7h1.4v20.4h-1.4zM1049.95 474.2h1.4v12.9h-1.4zM1052.56 468.2h1.4v18.9h-1.4zM1055.17 460.6h1.4v26.5h-1.4zM1057.79 459.1h1.4v28.0h-1.4zM1060.40 450.0h1.4v37.1h-1.4zM1063.01 457.6h1.4v29.5h-1.4zM1065.62 459.1h1.4v28.0h-1.4zM1068.24 457.6h1.4v29.5h-1.4zM1070.85 462.1h1.4v25.0h-1.4zM1073.46 462.1h1.4v25.0h-1.4zM1076.07 447.0h1.4v40.1h-1.4zM1078.69 448.5h1.4v38.6h-1.4zM1081.30 439.4h1.4v47.7h-1.4zM1083.91 393.9h1.4v93.2h-1.4zM1086.52 395.5h1.4v91.6h-1.4zM1089.14 386.4h1.4v100.7h-1.4zM1091.75 393.9h1.4v93.2h-1.4zM1094.36 397.0h1.4v90.1h-1.4zM1096.97 410.6h1.4v76.5h-1.4zM1099.59 415.2h1.4v71.9h-1.4zM1102.20 439.4h1.4v47.7h-1.4zM1104.81 421.2h1.4v65.9h-1.4zM1107.42 412.1h1.4v75.0h-1.4zM1110.04 380.3h1.4v106.8h-1.4zM1112.65 401.5h1.4v85.6h-1.4zM1115.26 398.5h1.4v88.6h-1.4zM1117.87 398.5h1.4v88.6h-1.4zM1120.49 400.0h1.4v87.1h-1.4zM1123.10 424.2h1.4v62.9h-1.4zM1125.71 406.1h1.4v81.0h-1.4zM1128.32 392.4h1.4v94.7h-1.4zM1130.94 410.6h1.4v76.5h-1.4zM1133.55 403.0h1.4v84.1h-1.4zM1136.16 406.1h1.4v81.0h-1.4zM1138.77 398.5h1.4v88.6h-1.4zM1141.39 398.5h1.4v88.6h-1.4zM1144.00 374.2h1.4v112.9h-1.4zM1146.61 413.6h1.4v73.5h-1.4zM1149.22 424.2h1.4v62.9h-1.4zM1151.84 415.2h1.4v71.9h-1.4zM1154.45 419.7h1.4v67.4h-1.4zM1157.06 404.5h1.4v82.6h-1.4zM1159.67 407.6h1.4v79.5h-1.4zM1162.29 487.1h1.4v19.0h-1.4zM1164.90 487.1h1.4v38.4h-1.4zM1167.51 487.1h1.4v49.0h-1.4zM1170.12 487.1h1.4v28.5h-1.4zM1172.74 487.1h1.4v36.1h-1.4zM1175.35 462.1h1.4v25.0h-1.4zM1177.96 459.1h1.4v28.0h-1.4zM1180.57 443.9h1.4v43.2h-1.4zM1183.19 421.2h1.4v65.9h-1.4zM1185.80 487.1h1.4v12.6h-1.4zM1188.41 487.1h1.4v15.6h-1.4zM1191.02 487.1h1.4v3.5h-1.4zM1193.64 487.1h1.4v3.5h-1.4zM1196.25 487.1h1.4v3.5h-1.4zM1198.86 487.1h1.4v3.5h-1.4zM1201.47 487.1h1.4v11.1h-1.4zM1204.09 487.1h1.4v26.2h-1.4zM1206.70 487.1h1.4v30.8h-1.4zM1209.31 487.1h1.4v27.7h-1.4zM1211.92 487.1h1.4v47.4h-1.4zM1214.54 487.1h1.4v62.9h-1.4zM1217.15 487.1h1.4v73.2h-1.4zM1219.76 487.1h1.4v67.1h-1.4zM1222.37 487.1h1.4v41.4h-1.4zM1224.99 487.1h1.4v23.2h-1.4zM1227.60 487.1h1.4v20.5h-1.4zM1230.21 468.6h1.4v18.5h-1.4zM1232.82 487.1h1.4v23.2h-1.4zM1235.44 487.1h1.4v25.5h-1.4zM1238.05 487.1h1.4v12.6h-1.4zM1240.66 420.0h1.4v67.1h-1.4zM1243.27 442.2h1.4v44.9h-1.4zM1245.89 442.2h1.4v44.9h-1.4zM1248.50 454.7h1.4v32.4h-1.4zM1251.11 453.3h1.4v33.8h-1.4zM1253.72 487.1h1.4v2.0h-1.4zM1256.34 481.1h1.4v6.0h-1.4zM1258.95 442.2h1.4v44.9h-1.4zM1261.56 460.3h1.4v26.8h-1.4zM1264.17 408.9h1.4v78.2h-1.4zM1266.79 369.4h1.4v117.7h-1.4zM1269.40 385.3h1.4v101.8h-1.4zM1272.01 364.4h1.4v122.7h-1.4zM1274.62 371.4h1.4v115.7h-1.4zM1277.24 365.8h1.4v121.3h-1.4zM1279.85 356.1h1.4v131.0h-1.4zM1282.46 356.1h1.4v131.0h-1.4zM1285.07 365.8h1.4v121.3h-1.4zM1287.69 364.4h1.4v122.7h-1.4zM1290.30 371.4h1.4v115.7h-1.4zM1292.91 367.2h1.4v119.9h-1.4zM1295.52 363.1h1.4v124.0h-1.4zM1298.14 361.7h1.4v125.4h-1.4zM1300.75 360.3h1.4v126.8h-1.4zM1303.36 356.1h1.4v131.0h-1.4zM1305.97 322.8h1.4v164.3h-1.4zM1308.59 271.1h1.4v216.0h-1.4zM1311.20 268.3h1.4v218.8h-1.4zM1313.81 265.6h1.4v221.5h-1.4zM1316.42 254.4h1.4v232.7h-1.4zM1319.04 251.7h1.4v235.4h-1.4zM1321.65 229.4h1.4v257.7h-1.4zM1324.26 237.8h1.4v249.3h-1.4zM1326.87 226.7h1.4v260.4h-1.4zM1329.49 222.5h1.4v264.6h-1.4zM1332.10 214.2h1.4v272.9h-1.4zM1334.71 223.9h1.4v263.2h-1.4zM1337.32 257.2h1.4v229.9h-1.4zM1339.94 196.1h1.4v291.0h-1.4zM1342.55 207.2h1.4v279.9h-1.4zM1345.16 235.0h1.4v252.1h-1.4zM1347.77 285.0h1.4v202.1h-1.4zM1350.39 311.9h1.4v175.2h-1.4zM1353.00 345.0h1.4v142.1h-1.4z" fill="#1aa3d9" fill-opacity="0.65"/>
<rect x="1356.0" y="52" width="2.1" height="607" fill="#4dff4d"/>
</svg>
<div class="lg" style="left:59.4px;top:33.0px;letter-spacing:-0.088px"><span class="dot" style="background:#7f8f96"></span>BTC: Price [USD]</div>
<div class="lg off" style="left:379.0px;top:33.0px;letter-spacing:0.111px"><span class="dot" style="background:#3498db"></span>BTC: US Month-over-Month Price Change<span class="st"></span></div>
<div class="lg off" style="left:698.0px;top:33.0px;letter-spacing:0.138px"><span class="dot" style="background:#3f3fbf"></span>BTC: Asia Month-over-Month Price Change<span class="st"></span></div>
<div class="lg off" style="left:1017.0px;top:33.0px;letter-spacing:0.097px"><span class="dot" style="background:#e8591c"></span>BTC: EU Month-over-Month Price Change<span class="st"></span></div>
<div class="lg off" style="left:59.4px;top:54.8px;letter-spacing:-0.117px"><span class="dot" style="background:#d4ac2b"></span>BTC: Realized Cap [USD]<span class="st"></span></div>
<div class="lg" style="left:379.0px;top:54.8px;letter-spacing:-1.150px"><span class="dot" style="background:#00ff00"></span>US</div>
<div class="lg" style="left:698.0px;top:54.8px;letter-spacing:-0.225px"><span class="dot" style="background:#ff9999"></span>Asia</div>
<div class="lg" style="left:1017.0px;top:54.8px;letter-spacing:-1.000px"><span class="dot" style="background:#5bc0de"></span>EU</div>
<div class="ax" style="left:63.7px;top:238.5px">$40k</div>
<div class="ax" style="left:64.5px;top:641.5px">$10k</div>
<div class="ax" style="left:1376.3px;top:126.10000000000001px;letter-spacing:0.06px">0.00000002</div>
<div class="ax" style="left:1376.3px;top:297.4px;letter-spacing:0.06px">0.00000001</div>
<div class="ax" style="left:1376.3px;top:470.3px;letter-spacing:0.06px">0</div>
<div class="ax" style="left:1376.3px;top:642.7px;letter-spacing:0.06px">-0.00000001</div>
<div class="xl" style="left:201px;top:679px">Jan '23</div>
<div class="xl" style="left:355.5px;top:679px">Mar '23</div>
<div class="xl" style="left:516px;top:679px">May '23</div>
<div class="xl" style="left:675px;top:679px">Jul '23</div>
<div class="xl" style="left:837px;top:679px">Sep '23</div>
<div class="xl" style="left:996.7px;top:679px">Nov '23</div>
<div class="xl" style="left:1155.7px;top:679px">Jan '24</div>
<div class="xl" style="left:1313.3px;top:679px">Mar '24</div>
<div class="foot">© 2024 Glassnode. All Rights Reserved.</div>
<div class="logo">glassnode</div>
</body></html>
